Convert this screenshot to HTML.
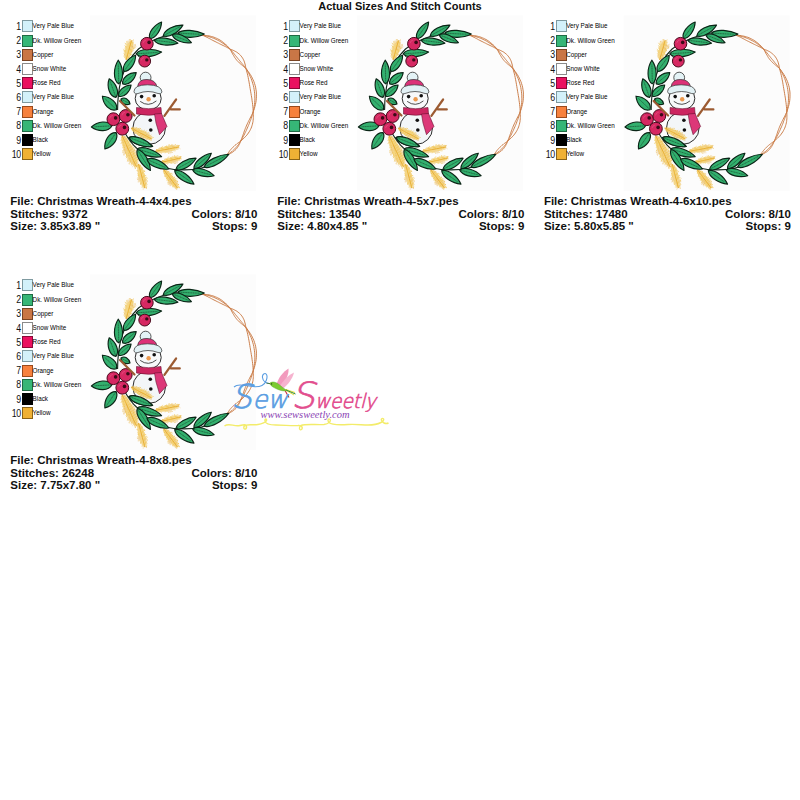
<!DOCTYPE html>
<html><head><meta charset="utf-8"><style>
html,body{margin:0;padding:0;background:#fff;width:800px;height:800px;overflow:hidden;position:relative}
svg.art{position:absolute;left:0;top:0}
.num{position:absolute;width:21px;text-align:right;font:10px "Liberation Sans",sans-serif;letter-spacing:-0.3px;color:#111;line-height:11px;transform:scaleX(0.88);transform-origin:100% 50%}
.sw{position:absolute;width:9px;height:10px;border:0.8px solid #777}
.lab{position:absolute;font:6.3px "Liberation Sans",sans-serif;color:#000;white-space:nowrap;line-height:7px}
.info{position:absolute;font:bold 11.5px "Liberation Sans",sans-serif;color:#111;line-height:12.3px;white-space:nowrap}
.row{display:flex;justify-content:space-between}
.title{position:absolute;left:0;top:0;width:800px;text-align:center;font:bold 11px "Liberation Sans",sans-serif;color:#111;line-height:12px}
</style></head><body>
<svg class="art" width="800" height="800" viewBox="0 0 800 800"><g transform="translate(0,0)"><rect x="90" y="15.5" width="166" height="175.5" fill="#fcfcfc"/><path d="M202.4,35.2 L203.8,35.3 L205.1,35.4 L206.4,35.5 L207.7,35.7 L209.0,35.9 L210.3,36.2 L211.6,36.5 L212.9,36.9 L214.2,37.3 L215.4,37.8 L216.6,38.3 L217.8,38.9 L219.0,39.5 L220.2,40.2 L221.3,40.9 L222.4,41.7 L223.4,42.5 L224.5,43.4 L225.5,44.2 L226.4,45.2 L227.4,46.1 L228.3,47.1 L229.2,48.1 L230.0,49.1 L230.6,50.0 L231.1,51.0 L231.6,52.0 L232.1,53.0 L232.6,53.9 L233.1,54.8 L233.7,55.7 L234.2,56.6 L234.7,57.5 L235.3,58.3 L235.9,59.1 L236.5,59.9 L237.2,60.7 L237.9,61.4 L238.6,62.1 L239.3,62.9 L240.1,63.6 L240.9,64.2 L241.7,64.9 L242.5,65.6 L243.3,66.3 L244.2,67.0 L245.0,67.7 L245.9,68.4 L247.1,69.9 L248.2,71.5 L249.3,73.0 L250.4,74.7 L251.4,76.3 L252.3,78.1 L253.1,79.8 L253.9,81.6 L254.5,83.4 L255.1,85.3 L255.6,87.2 L255.9,89.1 L256.2,91.0 L256.4,93.0 L256.4,94.9 L256.4,96.9 L256.3,98.8 L256.1,100.8 L255.8,102.7 L255.4,104.6 L254.9,106.5 L254.4,108.3 L253.8,110.1 L253.2,111.9 L252.6,113.2 L252.0,114.4 L251.4,115.6 L250.8,116.8 L250.2,118.0 L249.6,119.2 L249.0,120.3 L248.4,121.5 L247.9,122.6 L247.3,123.8 L246.8,125.0 L246.3,126.1 L245.8,127.3 L245.3,128.5 L244.9,129.7 L244.4,130.9 L244.0,132.1 L243.6,133.3 L243.1,134.6 L242.7,135.8 L242.2,137.1 L241.8,138.4 L241.3,139.6 L240.8,140.9 L240.5,141.7 L240.1,142.5 L239.8,143.3 L239.4,144.1 L239.0,144.9 L238.6,145.7 L238.1,146.5 L237.6,147.2 L237.1,147.9 L236.6,148.6 L236.0,149.3 L235.4,149.9 L234.7,150.5 L234.1,151.1 L233.4,151.6 L232.7,152.1 L231.9,152.6 L231.2,153.0 L230.4,153.5 L229.6,153.9 L228.8,154.2 L228.0,154.6 L227.1,154.9 L226.3,155.2" fill="none" stroke="#c97a44" stroke-width="0.95"/><path d="M202.4,35.2 L203.6,35.7 L204.8,36.3 L206.0,36.8 L207.2,37.4 L208.3,38.0 L209.5,38.6 L210.6,39.2 L211.7,39.8 L212.8,40.4 L214.0,41.0 L215.1,41.5 L216.2,42.1 L217.4,42.7 L218.5,43.2 L219.6,43.8 L220.8,44.4 L221.9,44.9 L223.1,45.5 L224.2,46.0 L225.4,46.6 L226.6,47.2 L227.7,47.8 L228.9,48.4 L230.0,49.1 L231.1,49.5 L232.1,49.9 L233.2,50.3 L234.2,50.8 L235.2,51.3 L236.2,51.8 L237.1,52.4 L238.0,53.1 L238.9,53.8 L239.7,54.5 L240.5,55.3 L241.2,56.1 L241.8,57.0 L242.5,57.9 L243.0,58.8 L243.5,59.8 L244.0,60.8 L244.4,61.9 L244.7,62.9 L245.0,64.0 L245.3,65.1 L245.5,66.2 L245.7,67.3 L245.9,68.4 L246.4,70.3 L246.9,72.1 L247.4,73.9 L247.8,75.7 L248.2,77.5 L248.5,79.3 L248.9,81.1 L249.2,82.9 L249.5,84.7 L249.8,86.5 L250.1,88.3 L250.4,90.0 L250.7,91.8 L251.0,93.6 L251.3,95.4 L251.6,97.1 L251.9,98.9 L252.1,100.8 L252.4,102.6 L252.6,104.4 L252.8,106.3 L253.0,108.2 L253.1,110.0 L253.2,111.9 L253.3,113.3 L253.3,114.7 L253.3,116.1 L253.3,117.4 L253.3,118.8 L253.1,120.2 L253.0,121.6 L252.7,122.9 L252.4,124.3 L252.0,125.6 L251.6,126.9 L251.1,128.2 L250.5,129.4 L249.9,130.6 L249.2,131.8 L248.4,133.0 L247.6,134.1 L246.8,135.2 L245.8,136.2 L244.9,137.2 L243.9,138.2 L242.9,139.1 L241.9,140.0 L240.8,140.9 L240.1,141.4 L239.4,142.0 L238.7,142.5 L238.0,143.0 L237.3,143.5 L236.6,144.0 L236.0,144.6 L235.3,145.1 L234.7,145.6 L234.1,146.2 L233.4,146.8 L232.8,147.3 L232.3,147.9 L231.7,148.5 L231.1,149.1 L230.6,149.8 L230.0,150.4 L229.5,151.1 L229.0,151.8 L228.5,152.5 L227.9,153.1 L227.4,153.8 L226.9,154.5 L226.3,155.2" fill="none" stroke="#c97a44" stroke-width="0.95"/><path d="M202.4,35.2 L203.7,35.4 L205.0,35.7 L206.3,36.0 L207.5,36.3 L208.8,36.6 L210.0,37.0 L211.3,37.4 L212.5,37.9 L213.7,38.3 L214.9,38.8 L216.1,39.4 L217.3,40.0 L218.5,40.6 L219.6,41.2 L220.8,41.9 L221.9,42.6 L223.0,43.3 L224.0,44.0 L225.1,44.8 L226.1,45.6 L227.1,46.5 L228.1,47.3 L229.1,48.2 L230.0,49.1 L230.7,49.9 L231.4,50.6 L232.1,51.4 L232.8,52.2 L233.5,53.0 L234.1,53.9 L234.8,54.7 L235.4,55.5 L236.1,56.3 L236.7,57.1 L237.4,57.9 L238.0,58.7 L238.7,59.5 L239.4,60.3 L240.0,61.1 L240.7,61.9 L241.3,62.7 L242.0,63.5 L242.7,64.3 L243.3,65.1 L244.0,65.9 L244.6,66.7 L245.2,67.6 L245.9,68.4 L246.9,70.0 L247.8,71.7 L248.7,73.3 L249.5,75.0 L250.3,76.7 L251.1,78.5 L251.7,80.2 L252.3,82.0 L252.9,83.9 L253.4,85.7 L253.8,87.5 L254.1,89.4 L254.4,91.3 L254.6,93.2 L254.8,95.1 L254.8,97.0 L254.9,98.9 L254.8,100.8 L254.7,102.6 L254.5,104.5 L254.2,106.4 L253.9,108.3 L253.6,110.1 L253.2,111.9 L252.8,113.2 L252.4,114.5 L252.0,115.8 L251.6,117.0 L251.2,118.3 L250.8,119.5 L250.3,120.7 L249.8,121.9 L249.4,123.2 L248.9,124.4 L248.4,125.6 L247.9,126.8 L247.3,128.0 L246.8,129.2 L246.3,130.4 L245.7,131.6 L245.2,132.7 L244.6,133.9 L244.0,135.1 L243.4,136.3 L242.8,137.4 L242.2,138.6 L241.5,139.7 L240.8,140.9 L240.4,141.6 L239.9,142.3 L239.4,143.1 L239.0,143.8 L238.5,144.5 L237.9,145.2 L237.4,145.8 L236.9,146.5 L236.3,147.2 L235.7,147.8 L235.2,148.4 L234.6,149.1 L233.9,149.7 L233.3,150.2 L232.6,150.8 L232.0,151.4 L231.3,151.9 L230.6,152.4 L229.9,152.9 L229.2,153.4 L228.5,153.9 L227.8,154.3 L227.1,154.8 L226.3,155.2" fill="none" stroke="#c97a44" stroke-width="0.95"/><ellipse cx="128.8" cy="50.2" rx="9.6" ry="3.6" transform="rotate(-74.2 128.8 50.2)" fill="#f7d77a" opacity="0.55"/><path d="M126.0,60.0L131.5,40.5" stroke="#e3a832" stroke-width="0.9"/><path d="M126.1,59.5L124.0,56.6M126.4,58.5L129.9,57.1M126.7,57.6L129.8,56.3M126.7,57.6L123.7,53.4M127.0,56.6L132.1,54.4M127.2,55.6L123.5,50.3M127.5,54.6L131.4,53.0M127.5,54.6L123.4,48.9M127.8,53.7L132.4,51.7M127.8,53.7L125.2,50.1M128.1,52.7L133.6,50.4M128.1,52.7L125.0,48.4M128.3,51.7L133.3,49.6M128.3,51.7L125.1,47.2M128.6,50.7L135.5,47.8M128.6,50.7L124.6,45.2M128.9,49.8L126.0,45.8M129.2,48.8L124.8,42.7M129.4,47.8L126.5,43.6M129.7,46.8L126.6,42.5M130.0,45.9L133.4,44.4M130.0,45.9L126.6,41.2M130.3,44.9L133.6,43.5M130.5,43.9L133.8,42.5M130.8,42.9L133.9,41.7M130.8,42.9L128.9,40.3M131.1,42.0L129.0,39.0M131.4,41.0L133.8,39.9" stroke="#efbf45" stroke-width="0.8" stroke-dasharray="1.1 0.45" fill="none"/><path d="M126.1,59.5L128.5,58.5M126.4,58.5L124.0,55.2M127.0,56.6L124.2,52.8M127.2,55.6L131.4,53.9M128.9,49.8L136.2,46.7M129.2,48.8L135.4,46.1M129.4,47.8L135.7,45.2M129.7,46.8L135.7,44.3M130.3,44.9L127.4,40.9M130.5,43.9L128.3,40.8M131.1,42.0L133.0,41.1M131.4,41.0L129.7,38.7" stroke="#e2a52e" stroke-width="0.6" stroke-dasharray="0.9 0.6" fill="none"/><ellipse cx="129.2" cy="151.2" rx="16.5" ry="4.3" transform="rotate(65.3 129.2 151.2)" fill="#f7d77a" opacity="0.55"/><path d="M122.0,135.5L136.5,167.0" stroke="#e3a832" stroke-width="0.9"/><path d="M122.2,136.0L126.2,137.0M122.6,136.9L120.9,140.5M123.1,137.8L121.5,140.9M123.1,137.8L128.1,139.1M123.5,138.7L121.0,143.7M123.9,139.7L130.1,141.2M124.3,140.6L122.5,144.3M124.3,140.6L131.1,142.3M124.8,141.5L122.5,146.0M124.8,141.5L129.0,142.6M125.2,142.4L122.5,147.8M125.2,142.4L130.3,143.7M125.6,143.4L123.2,148.3M125.6,143.4L131.2,144.8M126.1,144.3L122.5,151.5M126.1,144.3L133.1,146.1M126.5,145.2L131.8,146.6M126.9,146.2L135.5,148.3M127.3,147.1L133.6,148.6M127.8,148.0L135.0,149.8M128.2,148.9L125.7,153.9M128.2,148.9L136.6,151.0M128.6,149.9L125.9,155.3M129.0,150.8L125.9,157.0M129.5,151.7L126.1,158.4M129.5,151.7L136.6,153.5M129.9,152.6L138.9,154.9M130.3,153.6L127.3,159.6M130.7,154.5L127.2,161.7M130.7,154.5L138.9,156.5M131.2,155.4L138.0,157.1M131.6,156.3L129.1,161.4M131.6,156.3L139.5,158.3M132.4,158.2L129.4,164.3M132.4,158.2L138.3,159.7M132.9,159.1L138.4,160.5M133.3,160.1L131.0,164.7M133.3,160.1L137.9,161.2M133.7,161.0L138.6,162.2M134.2,161.9L132.7,164.8M134.2,161.9L137.6,162.8M135.0,163.8L138.8,164.7M135.4,164.7L134.3,166.9M135.4,164.7L139.2,165.6M135.9,165.6L138.8,166.4M136.3,166.5L135.1,169.0M136.3,166.5L139.0,167.2" stroke="#efbf45" stroke-width="0.8" stroke-dasharray="1.1 0.45" fill="none"/><path d="M122.2,136.0L120.9,138.5M122.6,136.9L126.8,137.9M123.5,138.7L128.0,139.9M123.9,139.7L121.9,143.6M126.5,145.2L122.5,153.2M126.9,146.2L123.3,153.3M127.3,147.1L123.5,154.8M127.8,148.0L123.7,156.0M128.6,149.9L136.7,151.9M129.0,150.8L136.3,152.6M129.9,152.6L127.4,157.5M130.3,153.6L137.3,155.3M131.2,155.4L128.1,161.5M132.0,157.3L128.8,163.7M132.0,157.3L139.3,159.1M132.9,159.1L131.0,162.8M133.7,161.0L131.5,165.3M134.6,162.8L132.5,167.1M134.6,162.8L139.1,163.9M135.0,163.8L133.6,166.5M135.9,165.6L134.7,168.0" stroke="#e2a52e" stroke-width="0.6" stroke-dasharray="0.9 0.6" fill="none"/><ellipse cx="141.7" cy="176.0" rx="11.8" ry="3.1" transform="rotate(75.3 141.7 176.0)" fill="#f7d77a" opacity="0.55"/><path d="M138.5,164.0L144.8,188.0" stroke="#e3a832" stroke-width="0.9"/><path d="M138.6,164.5L141.4,165.7M138.9,165.5L137.0,168.0M139.2,166.5L137.5,168.7M139.2,166.5L143.0,168.2M139.4,167.5L136.7,171.1M139.7,168.5L144.5,170.6M139.9,169.5L137.9,172.2M139.9,169.5L145.2,171.8M140.2,170.5L137.7,173.8M140.2,170.5L143.5,172.0M140.5,171.5L137.5,175.5M140.5,171.5L144.5,173.3M140.7,172.5L138.1,176.1M140.7,172.5L145.0,174.4M141.0,173.5L137.2,178.7M141.0,173.5L146.3,175.9M141.3,174.5L145.2,176.3M141.5,175.5L147.7,178.3M141.8,176.5L146.2,178.5M142.0,177.5L146.9,179.6M142.3,178.5L140.1,181.5M142.3,178.5L147.7,180.9M142.6,179.5L140.2,182.7M142.8,180.5L140.3,183.9M143.1,181.5L140.5,184.9M143.1,181.5L146.9,183.2M143.4,182.5L147.8,184.5M143.6,183.5L141.7,186.1M143.9,184.5L141.8,187.3M143.9,184.5L147.2,186.0M144.1,185.5L146.6,186.6M144.4,186.5L143.1,188.2M144.4,186.5L147.2,187.8" stroke="#efbf45" stroke-width="0.8" stroke-dasharray="1.1 0.45" fill="none"/><path d="M138.6,164.5L137.4,166.2M138.9,165.5L142.0,166.9M139.4,167.5L142.9,169.0M139.7,168.5L137.5,171.4M141.3,174.5L137.1,180.1M141.5,175.5L137.9,180.4M141.8,176.5L138.0,181.6M142.0,177.5L138.2,182.6M142.6,179.5L147.5,181.7M142.8,180.5L147.0,182.4M143.4,182.5L141.6,184.8M143.6,183.5L146.8,184.9M144.1,185.5L142.6,187.6M144.7,187.5L143.0,189.8M144.7,187.5L147.4,188.7" stroke="#e2a52e" stroke-width="0.6" stroke-dasharray="0.9 0.6" fill="none"/><ellipse cx="167.0" cy="149.2" rx="11.6" ry="2.8" transform="rotate(-10.6 167.0 149.2)" fill="#f7d77a" opacity="0.55"/><path d="M155.0,151.5L179.0,147.0" stroke="#e3a832" stroke-width="0.9"/><path d="M155.5,151.4L156.8,149.0M156.5,151.2L158.6,153.0M157.5,151.0L159.4,152.6M157.5,151.0L159.3,147.7M158.5,150.8L161.5,153.5M159.5,150.7L161.7,146.5M160.5,150.5L162.8,152.4M160.5,150.5L162.9,145.9M161.5,150.3L164.3,152.7M161.5,150.3L163.0,147.4M162.5,150.1L165.9,153.0M162.5,150.1L164.3,146.7M163.5,149.9L166.5,152.5M163.5,149.9L165.5,146.2M164.5,149.7L168.9,153.5M164.5,149.7L167.0,145.1M165.5,149.5L167.3,146.1M166.5,149.3L169.4,144.0M167.5,149.2L169.5,145.4M168.5,149.0L170.7,144.8M169.5,148.8L172.1,151.0M169.5,148.8L172.0,144.1M170.5,148.6L173.2,150.9M171.5,148.4L174.4,150.9M172.5,148.2L175.4,150.7M172.5,148.2L174.3,144.9M173.5,148.0L175.6,144.2M174.5,147.8L176.7,149.7M175.5,147.7L177.9,149.7M175.5,147.7L177.0,144.8M176.5,147.5L177.6,145.3M177.5,147.3L179.0,148.5M177.5,147.3L178.8,144.8" stroke="#efbf45" stroke-width="0.8" stroke-dasharray="1.1 0.45" fill="none"/><path d="M155.5,151.4L156.9,152.7M156.5,151.2L157.9,148.6M158.5,150.8L160.1,147.8M159.5,150.7L162.0,152.8M165.5,149.5L170.2,153.6M166.5,149.3L170.7,152.9M167.5,149.2L171.8,152.9M168.5,149.0L172.8,152.7M170.5,148.6L172.8,144.3M171.5,148.4L173.4,144.8M173.5,148.0L175.4,149.7M174.5,147.8L176.0,145.1M176.5,147.5L178.3,149.0M178.5,147.1L180.4,148.8M178.5,147.1L179.8,144.7" stroke="#e2a52e" stroke-width="0.6" stroke-dasharray="0.9 0.6" fill="none"/><ellipse cx="171.0" cy="160.2" rx="9.7" ry="2.6" transform="rotate(-12.7 171.0 160.2)" fill="#f7d77a" opacity="0.55"/><path d="M161.0,162.5L181.0,158.0" stroke="#e3a832" stroke-width="0.9"/><path d="M161.5,162.4L162.7,160.0M162.5,162.2L164.6,163.9M163.5,161.9L165.4,163.5M163.5,161.9L165.1,158.6M164.5,161.7L167.6,164.2M165.5,161.5L167.6,157.3M166.5,161.3L168.9,163.2M166.5,161.3L168.8,156.6M167.5,161.0L170.4,163.3M167.5,161.0L168.9,158.1M168.5,160.8L171.9,163.5M168.5,160.8L170.2,157.4M169.5,160.6L172.5,163.0M169.5,160.6L171.3,156.9M170.5,160.4L174.8,163.8M170.5,160.4L172.7,155.9M171.5,160.1L173.1,156.9M172.5,159.9L174.9,155.0M173.5,159.7L175.1,156.3M174.5,159.5L176.2,155.9M175.5,159.2L177.6,160.9M175.5,159.2L177.3,155.5M176.5,159.0L178.5,160.7M177.5,158.8L179.5,160.4M178.5,158.6L180.4,160.1M178.5,158.6L179.5,156.4M179.5,158.3L180.7,156.0M180.5,158.1L182.0,159.3" stroke="#efbf45" stroke-width="0.8" stroke-dasharray="1.1 0.45" fill="none"/><path d="M161.5,162.4L162.9,163.5M162.5,162.2L163.8,159.5M164.5,161.7L166.0,158.6M165.5,161.5L168.1,163.5M171.5,160.1L176.0,163.7M172.5,159.9L176.4,163.0M173.5,159.7L177.4,162.8M174.5,159.5L178.2,162.4M176.5,159.0L178.1,155.8M177.5,158.8L178.7,156.3M179.5,158.3L180.7,159.3M180.5,158.1L181.4,156.2" stroke="#e2a52e" stroke-width="0.6" stroke-dasharray="0.9 0.6" fill="none"/><ellipse cx="170.5" cy="178.8" rx="11.0" ry="3.1" transform="rotate(52.9 170.5 178.8)" fill="#f7d77a" opacity="0.55"/><path d="M163.5,169.5L177.5,188.0" stroke="#e3a832" stroke-width="0.9"/><path d="M163.8,169.9L166.9,170.0M164.4,170.7L163.6,173.7M165.0,171.5L164.3,174.2M165.0,171.5L169.3,171.6M165.6,172.3L164.5,176.7M166.2,173.1L171.6,173.3M166.8,173.9L166.0,177.3M166.8,173.9L172.7,174.1M167.5,174.7L166.4,178.8M167.5,174.7L171.1,174.8M168.1,175.5L166.8,180.4M168.1,175.5L172.5,175.7M168.7,176.3L167.6,180.7M168.7,176.3L173.4,176.5M169.3,177.1L167.7,183.4M169.3,177.1L175.2,177.3M169.9,177.9L174.2,178.1M170.5,178.8L177.3,178.9M171.1,179.6L175.9,179.7M171.7,180.4L176.9,180.5M172.3,181.2L171.4,184.7M172.3,181.2L178.1,181.3M172.9,182.0L172.0,185.7M173.5,182.8L172.6,186.7M174.2,183.6L173.2,187.4M174.2,183.6L178.1,183.7M174.8,184.4L179.2,184.5M175.4,185.2L174.7,188.0M176.0,186.0L175.2,188.9M176.0,186.0L179.2,186.1M176.6,186.8L179.2,186.9M177.2,187.6L176.7,189.7M177.2,187.6L180.3,187.7" stroke="#efbf45" stroke-width="0.8" stroke-dasharray="1.1 0.45" fill="none"/><path d="M163.8,169.9L163.3,172.0M164.4,170.7L167.8,170.8M165.6,172.3L169.5,172.4M166.2,173.1L165.3,176.7M169.9,177.9L168.2,184.7M170.5,178.8L169.0,184.7M171.1,179.6L169.6,185.7M171.7,180.4L170.2,186.4M172.9,182.0L178.1,182.1M173.5,182.8L177.9,182.9M174.8,184.4L174.1,186.9M175.4,185.2L178.5,185.3M176.6,186.8L176.0,189.2" stroke="#e2a52e" stroke-width="0.6" stroke-dasharray="0.9 0.6" fill="none"/><path d="M204,34.5 C190,33 175,32.5 163,36.5 C152,40 145,44 138.5,49 C130,57 124,70 121,80 C118.5,90 117.6,100 117.6,110" fill="none" stroke="#13281b" stroke-width="1.1"/><path d="M125,133 C129,140 133,145 136.5,148 C141,153 147,160 152,162.5 C160,166 168,169 174,169.5 C182,170 193,170 200,168.5 C210,166 220,160 228,154.5" fill="none" stroke="#13281b" stroke-width="1.1"/><path d="M141,47 L146.5,44 M138,56 L144,60.5" stroke="#1d3b28" stroke-width="0.8"/><path d="M177.9,33.0C182.4,38.6 195.6,38.6 204.3,34.1C196.0,29.9 182.8,28.8 177.9,33.0Z" fill="#33b06e" stroke="#0a2516" stroke-width="1.15" stroke-linejoin="round"/><path d="M179.2,33.2Q191.1,33.9 200.3,34.2" fill="none" stroke="#123d25" stroke-width="0.65" stroke-dasharray="1.2 0.5"/><path d="M163.2,35.8C169.1,38.2 178.7,32.4 182.9,25.1C174.5,24.7 164.4,29.6 163.2,35.8Z" fill="#33b06e" stroke="#0a2516" stroke-width="1.15" stroke-linejoin="round"/><path d="M164.2,35.3Q173.1,30.4 179.9,26.7" fill="none" stroke="#123d25" stroke-width="0.65" stroke-dasharray="1.2 0.5"/><path d="M172.2,34.7C174.0,40.3 183.7,43.8 191.4,42.6C186.8,36.4 177.4,32.0 172.2,34.7Z" fill="#33b06e" stroke="#0a2516" stroke-width="1.15" stroke-linejoin="round"/><path d="M173.2,35.1Q181.8,38.7 188.5,41.4" fill="none" stroke="#123d25" stroke-width="0.65" stroke-dasharray="1.2 0.5"/><path d="M149.7,38.6C155.8,38.5 161.3,29.9 161.6,22.0C154.2,24.8 147.9,32.8 149.7,38.6Z" fill="#33b06e" stroke="#0a2516" stroke-width="1.15" stroke-linejoin="round"/><path d="M150.3,37.8Q155.6,30.3 159.8,24.5" fill="none" stroke="#123d25" stroke-width="0.65" stroke-dasharray="1.2 0.5"/><path d="M154.2,40.3C157.9,45.6 169.8,46.5 177.9,43.1C170.8,37.9 159.0,36.0 154.2,40.3Z" fill="#33b06e" stroke="#0a2516" stroke-width="1.15" stroke-linejoin="round"/><path d="M155.4,40.4Q166.1,41.7 174.3,42.7" fill="none" stroke="#123d25" stroke-width="0.65" stroke-dasharray="1.2 0.5"/><path d="M136.2,53.8C141.1,58.8 153.8,57.4 161.6,52.1C153.2,47.9 140.4,48.2 136.2,53.8Z" fill="#33b06e" stroke="#0a2516" stroke-width="1.15" stroke-linejoin="round"/><path d="M137.5,53.7Q148.9,53.0 157.8,52.4" fill="none" stroke="#123d25" stroke-width="0.65" stroke-dasharray="1.2 0.5"/><path d="M123.8,71.5C130.2,71.7 135.7,63.2 135.6,55.2C128.0,57.6 121.6,65.5 123.8,71.5Z" fill="#33b06e" stroke="#0a2516" stroke-width="1.15" stroke-linejoin="round"/><path d="M124.4,70.7Q129.7,63.4 133.8,57.6" fill="none" stroke="#123d25" stroke-width="0.65" stroke-dasharray="1.2 0.5"/><path d="M118.7,83.9C124.3,79.5 123.5,67.7 118.2,60.2C113.3,67.9 112.9,79.8 118.7,83.9Z" fill="#33b06e" stroke="#0a2516" stroke-width="1.15" stroke-linejoin="round"/><path d="M118.7,82.7Q118.5,72.1 118.3,63.8" fill="none" stroke="#123d25" stroke-width="0.65" stroke-dasharray="1.2 0.5"/><path d="M122.7,83.9C128.5,85.9 134.9,79.8 136.2,72.6C128.8,72.6 121.7,77.8 122.7,83.9Z" fill="#33b06e" stroke="#0a2516" stroke-width="1.15" stroke-linejoin="round"/><path d="M123.4,83.3Q129.4,78.2 134.2,74.3" fill="none" stroke="#123d25" stroke-width="0.65" stroke-dasharray="1.2 0.5"/><path d="M115.9,97.4C120.0,92.1 116.1,83.0 109.2,78.8C106.5,86.5 109.3,96.0 115.9,97.4Z" fill="#33b06e" stroke="#0a2516" stroke-width="1.15" stroke-linejoin="round"/><path d="M115.6,96.5Q112.6,88.1 110.2,81.6" fill="none" stroke="#123d25" stroke-width="0.65" stroke-dasharray="1.2 0.5"/><path d="M118.7,96.2C124.2,97.8 130.1,91.8 131.1,85.0C124.2,85.3 117.7,90.6 118.7,96.2Z" fill="#33b06e" stroke="#0a2516" stroke-width="1.15" stroke-linejoin="round"/><path d="M119.3,95.6Q124.9,90.6 129.2,86.7" fill="none" stroke="#123d25" stroke-width="0.65" stroke-dasharray="1.2 0.5"/><path d="M116.5,109.7C118.2,102.9 110.7,96.6 102.4,96.2C103.1,104.5 109.8,111.7 116.5,109.7Z" fill="#33b06e" stroke="#0a2516" stroke-width="1.15" stroke-linejoin="round"/><path d="M115.8,109.0Q109.5,103.0 104.5,98.2" fill="none" stroke="#123d25" stroke-width="0.65" stroke-dasharray="1.2 0.5"/><path d="M121.0,99.0C120.6,103.4 125.4,105.6 130.0,104.0C128.9,99.2 124.6,96.4 121.0,99.0Z" fill="#33b06e" stroke="#0a2516" stroke-width="1.15" stroke-linejoin="round"/><path d="M121.5,99.2Q125.5,101.5 128.7,103.2" fill="none" stroke="#123d25" stroke-width="0.65" stroke-dasharray="1.2 0.5"/><path d="M112.0,125.8C107.9,119.9 97.7,121.2 91.4,127.0C98.3,132.1 108.6,132.1 112.0,125.8Z" fill="#33b06e" stroke="#0a2516" stroke-width="1.15" stroke-linejoin="round"/><path d="M111.0,125.9Q101.7,126.4 94.5,126.8" fill="none" stroke="#123d25" stroke-width="0.65" stroke-dasharray="1.2 0.5"/><path d="M116.1,132.6C109.1,132.1 104.0,140.6 104.9,148.9C113.0,146.8 119.1,139.0 116.1,132.6Z" fill="#33b06e" stroke="#0a2516" stroke-width="1.15" stroke-linejoin="round"/><path d="M115.5,133.4Q110.5,140.8 106.6,146.5" fill="none" stroke="#123d25" stroke-width="0.65" stroke-dasharray="1.2 0.5"/><path d="M129.0,137.5C131.5,143.7 143.5,147.7 152.6,146.5C146.6,139.5 135.0,134.6 129.0,137.5Z" fill="#33b06e" stroke="#0a2516" stroke-width="1.15" stroke-linejoin="round"/><path d="M130.2,137.9Q140.8,142.0 149.1,145.2" fill="none" stroke="#123d25" stroke-width="0.65" stroke-dasharray="1.2 0.5"/><path d="M137.3,148.8C140.2,154.8 152.5,158.3 161.6,156.6C155.2,149.9 143.2,145.6 137.3,148.8Z" fill="#33b06e" stroke="#0a2516" stroke-width="1.15" stroke-linejoin="round"/><path d="M138.5,149.2Q149.4,152.7 158.0,155.4" fill="none" stroke="#123d25" stroke-width="0.65" stroke-dasharray="1.2 0.5"/><path d="M137.3,149.5C135.2,156.1 142.2,166.3 150.4,170.5C150.2,161.3 144.1,150.5 137.3,149.5Z" fill="#33b06e" stroke="#0a2516" stroke-width="1.15" stroke-linejoin="round"/><path d="M138.0,150.6Q143.9,160.0 148.4,167.3" fill="none" stroke="#123d25" stroke-width="0.65" stroke-dasharray="1.2 0.5"/><path d="M147.0,159.3C148.8,165.9 159.9,170.2 168.8,169.0C163.7,161.6 153.1,156.2 147.0,159.3Z" fill="#33b06e" stroke="#0a2516" stroke-width="1.15" stroke-linejoin="round"/><path d="M148.1,159.8Q157.9,164.2 165.5,167.5" fill="none" stroke="#123d25" stroke-width="0.65" stroke-dasharray="1.2 0.5"/><path d="M175.9,169.5C181.9,171.7 191.8,165.6 196.1,158.2C187.5,158.0 177.2,163.2 175.9,169.5Z" fill="#33b06e" stroke="#0a2516" stroke-width="1.15" stroke-linejoin="round"/><path d="M176.9,168.9Q186.0,163.8 193.1,159.9" fill="none" stroke="#123d25" stroke-width="0.65" stroke-dasharray="1.2 0.5"/><path d="M193.9,168.4C200.2,169.3 208.6,161.4 211.3,153.2C202.9,154.8 193.8,162.0 193.9,168.4Z" fill="#33b06e" stroke="#0a2516" stroke-width="1.15" stroke-linejoin="round"/><path d="M194.8,167.6Q202.6,160.8 208.7,155.5" fill="none" stroke="#123d25" stroke-width="0.65" stroke-dasharray="1.2 0.5"/><path d="M204.0,167.2C210.7,169.2 222.8,162.3 228.7,154.3C218.8,154.6 206.2,160.6 204.0,167.2Z" fill="#33b06e" stroke="#0a2516" stroke-width="1.15" stroke-linejoin="round"/><path d="M205.2,166.6Q216.3,160.8 225.0,156.2" fill="none" stroke="#123d25" stroke-width="0.65" stroke-dasharray="1.2 0.5"/><path d="M192.7,170.0C195.3,175.7 206.1,178.1 214.1,175.7C208.4,169.7 197.8,166.3 192.7,170.0Z" fill="#33b06e" stroke="#0a2516" stroke-width="1.15" stroke-linejoin="round"/><path d="M193.8,170.3Q203.4,172.8 210.9,174.8" fill="none" stroke="#123d25" stroke-width="0.65" stroke-dasharray="1.2 0.5"/><path d="M174.7,170.6C175.4,177.0 185.2,183.4 193.9,184.1C190.3,176.2 181.0,169.0 174.7,170.6Z" fill="#33b06e" stroke="#0a2516" stroke-width="1.15" stroke-linejoin="round"/><path d="M175.7,171.3Q184.3,177.3 191.0,182.1" fill="none" stroke="#123d25" stroke-width="0.65" stroke-dasharray="1.2 0.5"/><circle cx="146.9" cy="43.7" r="6.3" fill="#d62862" stroke="#4a0a1c" stroke-width="1"/><circle cx="149.1" cy="42.4" r="1.8" fill="#3a0a16"/><path d="M143.1,43.1a3.8,3.8 0 0 1 3.1,-3.1" stroke="#f07aa0" stroke-width="0.6" fill="none" opacity="0.6"/><circle cx="144.7" cy="61.1" r="5.9" fill="#d62862" stroke="#4a0a1c" stroke-width="1"/><circle cx="146.8" cy="59.9" r="1.7" fill="#3a0a16"/><path d="M141.2,60.5a3.5,3.5 0 0 1 3.0,-3.0" stroke="#f07aa0" stroke-width="0.6" fill="none" opacity="0.6"/><circle cx="113.4" cy="119.2" r="6.4" fill="#d62862" stroke="#4a0a1c" stroke-width="1"/><circle cx="115.6" cy="117.9" r="1.8" fill="#3a0a16"/><path d="M109.6,118.6a3.8,3.8 0 0 1 3.2,-3.2" stroke="#f07aa0" stroke-width="0.6" fill="none" opacity="0.6"/><circle cx="122.3" cy="128.7" r="6.4" fill="#d62862" stroke="#4a0a1c" stroke-width="1"/><circle cx="124.5" cy="127.4" r="1.8" fill="#3a0a16"/><path d="M118.5,128.1a3.8,3.8 0 0 1 3.2,-3.2" stroke="#f07aa0" stroke-width="0.6" fill="none" opacity="0.6"/><circle cx="125.7" cy="116" r="6.4" fill="#d62862" stroke="#4a0a1c" stroke-width="1"/><circle cx="127.9" cy="114.7" r="1.8" fill="#3a0a16"/><path d="M121.9,115.4a3.8,3.8 0 0 1 3.2,-3.2" stroke="#f07aa0" stroke-width="0.6" fill="none" opacity="0.6"/><path d="M120,101 L134.5,115.5" stroke="#9c5b32" stroke-width="2.2" stroke-linecap="round"/><path d="M164.4,115.9 L176.1,99.5 M170.9,109.4 L179.8,109.4" stroke="#9c5b32" stroke-width="2.2" stroke-linecap="round"/><circle cx="149.2" cy="128" r="16.3" fill="#f3f6f8" stroke="#222" stroke-width="0.95"/><ellipse cx="148.2" cy="98.5" rx="13" ry="11.5" fill="#f7f9fa" stroke="#222" stroke-width="0.95"/><path d="M136.5,107.5 Q148.5,110 161,107.5 L161.5,114 Q148.5,116.5 136.5,114 Z" fill="#cc2560" stroke="#6a1030" stroke-width="0.6"/><path d="M154.5,114 L161.5,113.5 L167,126.5 L159.5,134.7 L156,123 Z" fill="#dc3878" stroke="#6a1030" stroke-width="0.6"/><circle cx="145.6" cy="77.6" r="5.4" fill="#e4f3f6" stroke="#2c2c2c" stroke-width="0.8"/><path d="M137.5,87 Q138.5,79 147,79.5 Q155.5,79.5 157,87 Z" fill="#dc3278" stroke="#2c2c2c" stroke-width="0.7"/><path d="M134,91.5 Q134,85 147.5,84.8 Q161.5,85 162,92 Q161,94.8 158,93.5 Q148,89.5 138,93.5 Q134.5,94.8 134,91.5 Z" fill="#e2f1f5" stroke="#2c2c2c" stroke-width="0.7"/><circle cx="141.6" cy="96.6" r="1.8" fill="#111"/><circle cx="154.2" cy="95.8" r="1.8" fill="#111"/><circle cx="148.6" cy="99.3" r="2.2" fill="#eb9a50"/><path d="M140.2,101.4 Q148.4,107.5 156.4,100.9" fill="none" stroke="#222" stroke-width="0.8"/><circle cx="150.3" cy="120.2" r="1.8" fill="#111"/><circle cx="150.8" cy="130" r="1.8" fill="#111"/><ellipse cx="141.2" cy="133.4" rx="11.0" ry="3.0" transform="rotate(27.8 141.2 133.4)" fill="#f7d77a" opacity="0.55"/><path d="M131.0,128.0L151.5,138.8" stroke="#e3a832" stroke-width="0.9"/><path d="M131.4,128.2L134.1,127.1M132.3,128.7L132.9,131.6M133.2,129.2L133.7,131.7M133.2,129.2L136.9,127.6M134.1,129.6L134.9,133.9M135.0,130.1L139.6,128.1M135.9,130.6L136.5,133.8M135.9,130.6L141.0,128.4M136.8,131.1L137.5,134.9M136.8,131.1L140.0,129.7M137.7,131.5L138.6,136.2M137.7,131.5L141.5,129.9M138.6,132.0L139.4,136.2M138.6,132.0L142.7,130.2M139.5,132.5L140.6,138.5M139.5,132.5L144.6,130.2M140.4,132.9L144.1,131.3M141.2,133.4L147.1,130.8M142.1,133.9L146.3,132.1M143.0,134.3L147.5,132.4M143.9,134.8L144.6,138.2M143.9,134.8L148.9,132.6M144.8,135.3L145.5,138.8M145.7,135.7L146.4,139.5M146.6,136.2L147.3,139.9M146.6,136.2L150.0,134.7M147.5,136.7L151.4,135.0M148.4,137.2L148.9,139.9M149.3,137.6L149.8,140.5M149.3,137.6L152.0,136.4M150.2,138.1L152.4,137.1M151.1,138.6L151.4,140.6M151.1,138.6L153.7,137.4" stroke="#efbf45" stroke-width="0.8" stroke-dasharray="1.1 0.45" fill="none"/><path d="M131.4,128.2L131.8,130.2M132.3,128.7L135.3,127.4M134.1,129.6L137.5,128.2M135.0,130.1L135.7,133.5M140.4,132.9L141.6,139.4M141.2,133.4L142.3,139.1M142.1,133.9L143.3,139.7M143.0,134.3L144.2,140.2M144.8,135.3L149.3,133.3M145.7,135.7L149.5,134.1M147.5,136.7L148.0,139.1M148.4,137.2L151.1,136.0M150.2,138.1L150.6,140.4" stroke="#e2a52e" stroke-width="0.6" stroke-dasharray="0.9 0.6" fill="none"/><path d="M129.0,137.5C131.5,143.7 143.5,147.7 152.6,146.5C146.6,139.6 135.0,134.6 129.0,137.5Z" fill="#33b06e" stroke="#0a2516" stroke-width="1.15" stroke-linejoin="round"/><path d="M130.2,137.9Q140.8,142.0 149.1,145.2" fill="none" stroke="#123d25" stroke-width="0.65" stroke-dasharray="1.2 0.5"/></g><g transform="translate(267,0)"><rect x="90" y="15.5" width="166" height="175.5" fill="#fcfcfc"/><path d="M202.4,35.2 L203.8,35.3 L205.1,35.4 L206.4,35.5 L207.7,35.7 L209.0,35.9 L210.3,36.2 L211.6,36.5 L212.9,36.9 L214.2,37.3 L215.4,37.8 L216.6,38.3 L217.8,38.9 L219.0,39.5 L220.2,40.2 L221.3,40.9 L222.4,41.7 L223.4,42.5 L224.5,43.4 L225.5,44.2 L226.4,45.2 L227.4,46.1 L228.3,47.1 L229.2,48.1 L230.0,49.1 L230.6,50.0 L231.1,51.0 L231.6,52.0 L232.1,53.0 L232.6,53.9 L233.1,54.8 L233.7,55.7 L234.2,56.6 L234.7,57.5 L235.3,58.3 L235.9,59.1 L236.5,59.9 L237.2,60.7 L237.9,61.4 L238.6,62.1 L239.3,62.9 L240.1,63.6 L240.9,64.2 L241.7,64.9 L242.5,65.6 L243.3,66.3 L244.2,67.0 L245.0,67.7 L245.9,68.4 L247.1,69.9 L248.2,71.5 L249.3,73.0 L250.4,74.7 L251.4,76.3 L252.3,78.1 L253.1,79.8 L253.9,81.6 L254.5,83.4 L255.1,85.3 L255.6,87.2 L255.9,89.1 L256.2,91.0 L256.4,93.0 L256.4,94.9 L256.4,96.9 L256.3,98.8 L256.1,100.8 L255.8,102.7 L255.4,104.6 L254.9,106.5 L254.4,108.3 L253.8,110.1 L253.2,111.9 L252.6,113.2 L252.0,114.4 L251.4,115.6 L250.8,116.8 L250.2,118.0 L249.6,119.2 L249.0,120.3 L248.4,121.5 L247.9,122.6 L247.3,123.8 L246.8,125.0 L246.3,126.1 L245.8,127.3 L245.3,128.5 L244.9,129.7 L244.4,130.9 L244.0,132.1 L243.6,133.3 L243.1,134.6 L242.7,135.8 L242.2,137.1 L241.8,138.4 L241.3,139.6 L240.8,140.9 L240.5,141.7 L240.1,142.5 L239.8,143.3 L239.4,144.1 L239.0,144.9 L238.6,145.7 L238.1,146.5 L237.6,147.2 L237.1,147.9 L236.6,148.6 L236.0,149.3 L235.4,149.9 L234.7,150.5 L234.1,151.1 L233.4,151.6 L232.7,152.1 L231.9,152.6 L231.2,153.0 L230.4,153.5 L229.6,153.9 L228.8,154.2 L228.0,154.6 L227.1,154.9 L226.3,155.2" fill="none" stroke="#c97a44" stroke-width="0.95"/><path d="M202.4,35.2 L203.6,35.7 L204.8,36.3 L206.0,36.8 L207.2,37.4 L208.3,38.0 L209.5,38.6 L210.6,39.2 L211.7,39.8 L212.8,40.4 L214.0,41.0 L215.1,41.5 L216.2,42.1 L217.4,42.7 L218.5,43.2 L219.6,43.8 L220.8,44.4 L221.9,44.9 L223.1,45.5 L224.2,46.0 L225.4,46.6 L226.6,47.2 L227.7,47.8 L228.9,48.4 L230.0,49.1 L231.1,49.5 L232.1,49.9 L233.2,50.3 L234.2,50.8 L235.2,51.3 L236.2,51.8 L237.1,52.4 L238.0,53.1 L238.9,53.8 L239.7,54.5 L240.5,55.3 L241.2,56.1 L241.8,57.0 L242.5,57.9 L243.0,58.8 L243.5,59.8 L244.0,60.8 L244.4,61.9 L244.7,62.9 L245.0,64.0 L245.3,65.1 L245.5,66.2 L245.7,67.3 L245.9,68.4 L246.4,70.3 L246.9,72.1 L247.4,73.9 L247.8,75.7 L248.2,77.5 L248.5,79.3 L248.9,81.1 L249.2,82.9 L249.5,84.7 L249.8,86.5 L250.1,88.3 L250.4,90.0 L250.7,91.8 L251.0,93.6 L251.3,95.4 L251.6,97.1 L251.9,98.9 L252.1,100.8 L252.4,102.6 L252.6,104.4 L252.8,106.3 L253.0,108.2 L253.1,110.0 L253.2,111.9 L253.3,113.3 L253.3,114.7 L253.3,116.1 L253.3,117.4 L253.3,118.8 L253.1,120.2 L253.0,121.6 L252.7,122.9 L252.4,124.3 L252.0,125.6 L251.6,126.9 L251.1,128.2 L250.5,129.4 L249.9,130.6 L249.2,131.8 L248.4,133.0 L247.6,134.1 L246.8,135.2 L245.8,136.2 L244.9,137.2 L243.9,138.2 L242.9,139.1 L241.9,140.0 L240.8,140.9 L240.1,141.4 L239.4,142.0 L238.7,142.5 L238.0,143.0 L237.3,143.5 L236.6,144.0 L236.0,144.6 L235.3,145.1 L234.7,145.6 L234.1,146.2 L233.4,146.8 L232.8,147.3 L232.3,147.9 L231.7,148.5 L231.1,149.1 L230.6,149.8 L230.0,150.4 L229.5,151.1 L229.0,151.8 L228.5,152.5 L227.9,153.1 L227.4,153.8 L226.9,154.5 L226.3,155.2" fill="none" stroke="#c97a44" stroke-width="0.95"/><path d="M202.4,35.2 L203.7,35.4 L205.0,35.7 L206.3,36.0 L207.5,36.3 L208.8,36.6 L210.0,37.0 L211.3,37.4 L212.5,37.9 L213.7,38.3 L214.9,38.8 L216.1,39.4 L217.3,40.0 L218.5,40.6 L219.6,41.2 L220.8,41.9 L221.9,42.6 L223.0,43.3 L224.0,44.0 L225.1,44.8 L226.1,45.6 L227.1,46.5 L228.1,47.3 L229.1,48.2 L230.0,49.1 L230.7,49.9 L231.4,50.6 L232.1,51.4 L232.8,52.2 L233.5,53.0 L234.1,53.9 L234.8,54.7 L235.4,55.5 L236.1,56.3 L236.7,57.1 L237.4,57.9 L238.0,58.7 L238.7,59.5 L239.4,60.3 L240.0,61.1 L240.7,61.9 L241.3,62.7 L242.0,63.5 L242.7,64.3 L243.3,65.1 L244.0,65.9 L244.6,66.7 L245.2,67.6 L245.9,68.4 L246.9,70.0 L247.8,71.7 L248.7,73.3 L249.5,75.0 L250.3,76.7 L251.1,78.5 L251.7,80.2 L252.3,82.0 L252.9,83.9 L253.4,85.7 L253.8,87.5 L254.1,89.4 L254.4,91.3 L254.6,93.2 L254.8,95.1 L254.8,97.0 L254.9,98.9 L254.8,100.8 L254.7,102.6 L254.5,104.5 L254.2,106.4 L253.9,108.3 L253.6,110.1 L253.2,111.9 L252.8,113.2 L252.4,114.5 L252.0,115.8 L251.6,117.0 L251.2,118.3 L250.8,119.5 L250.3,120.7 L249.8,121.9 L249.4,123.2 L248.9,124.4 L248.4,125.6 L247.9,126.8 L247.3,128.0 L246.8,129.2 L246.3,130.4 L245.7,131.6 L245.2,132.7 L244.6,133.9 L244.0,135.1 L243.4,136.3 L242.8,137.4 L242.2,138.6 L241.5,139.7 L240.8,140.9 L240.4,141.6 L239.9,142.3 L239.4,143.1 L239.0,143.8 L238.5,144.5 L237.9,145.2 L237.4,145.8 L236.9,146.5 L236.3,147.2 L235.7,147.8 L235.2,148.4 L234.6,149.1 L233.9,149.7 L233.3,150.2 L232.6,150.8 L232.0,151.4 L231.3,151.9 L230.6,152.4 L229.9,152.9 L229.2,153.4 L228.5,153.9 L227.8,154.3 L227.1,154.8 L226.3,155.2" fill="none" stroke="#c97a44" stroke-width="0.95"/><ellipse cx="128.8" cy="50.2" rx="9.6" ry="3.6" transform="rotate(-74.2 128.8 50.2)" fill="#f7d77a" opacity="0.55"/><path d="M126.0,60.0L131.5,40.5" stroke="#e3a832" stroke-width="0.9"/><path d="M126.1,59.5L124.0,56.6M126.4,58.5L129.9,57.1M126.7,57.6L129.8,56.3M126.7,57.6L123.7,53.4M127.0,56.6L132.1,54.4M127.2,55.6L123.5,50.3M127.5,54.6L131.4,53.0M127.5,54.6L123.4,48.9M127.8,53.7L132.4,51.7M127.8,53.7L125.2,50.1M128.1,52.7L133.6,50.4M128.1,52.7L125.0,48.4M128.3,51.7L133.3,49.6M128.3,51.7L125.1,47.2M128.6,50.7L135.5,47.8M128.6,50.7L124.6,45.2M128.9,49.8L126.0,45.8M129.2,48.8L124.8,42.7M129.4,47.8L126.5,43.6M129.7,46.8L126.6,42.5M130.0,45.9L133.4,44.4M130.0,45.9L126.6,41.2M130.3,44.9L133.6,43.5M130.5,43.9L133.8,42.5M130.8,42.9L133.9,41.7M130.8,42.9L128.9,40.3M131.1,42.0L129.0,39.0M131.4,41.0L133.8,39.9" stroke="#efbf45" stroke-width="0.8" stroke-dasharray="1.1 0.45" fill="none"/><path d="M126.1,59.5L128.5,58.5M126.4,58.5L124.0,55.2M127.0,56.6L124.2,52.8M127.2,55.6L131.4,53.9M128.9,49.8L136.2,46.7M129.2,48.8L135.4,46.1M129.4,47.8L135.7,45.2M129.7,46.8L135.7,44.3M130.3,44.9L127.4,40.9M130.5,43.9L128.3,40.8M131.1,42.0L133.0,41.1M131.4,41.0L129.7,38.7" stroke="#e2a52e" stroke-width="0.6" stroke-dasharray="0.9 0.6" fill="none"/><ellipse cx="129.2" cy="151.2" rx="16.5" ry="4.3" transform="rotate(65.3 129.2 151.2)" fill="#f7d77a" opacity="0.55"/><path d="M122.0,135.5L136.5,167.0" stroke="#e3a832" stroke-width="0.9"/><path d="M122.2,136.0L126.2,137.0M122.6,136.9L120.9,140.5M123.1,137.8L121.5,140.9M123.1,137.8L128.1,139.1M123.5,138.7L121.0,143.7M123.9,139.7L130.1,141.2M124.3,140.6L122.5,144.3M124.3,140.6L131.1,142.3M124.8,141.5L122.5,146.0M124.8,141.5L129.0,142.6M125.2,142.4L122.5,147.8M125.2,142.4L130.3,143.7M125.6,143.4L123.2,148.3M125.6,143.4L131.2,144.8M126.1,144.3L122.5,151.5M126.1,144.3L133.1,146.1M126.5,145.2L131.8,146.6M126.9,146.2L135.5,148.3M127.3,147.1L133.6,148.6M127.8,148.0L135.0,149.8M128.2,148.9L125.7,153.9M128.2,148.9L136.6,151.0M128.6,149.9L125.9,155.3M129.0,150.8L125.9,157.0M129.5,151.7L126.1,158.4M129.5,151.7L136.6,153.5M129.9,152.6L138.9,154.9M130.3,153.6L127.3,159.6M130.7,154.5L127.2,161.7M130.7,154.5L138.9,156.5M131.2,155.4L138.0,157.1M131.6,156.3L129.1,161.4M131.6,156.3L139.5,158.3M132.4,158.2L129.4,164.3M132.4,158.2L138.3,159.7M132.9,159.1L138.4,160.5M133.3,160.1L131.0,164.7M133.3,160.1L137.9,161.2M133.7,161.0L138.6,162.2M134.2,161.9L132.7,164.8M134.2,161.9L137.6,162.8M135.0,163.8L138.8,164.7M135.4,164.7L134.3,166.9M135.4,164.7L139.2,165.6M135.9,165.6L138.8,166.4M136.3,166.5L135.1,169.0M136.3,166.5L139.0,167.2" stroke="#efbf45" stroke-width="0.8" stroke-dasharray="1.1 0.45" fill="none"/><path d="M122.2,136.0L120.9,138.5M122.6,136.9L126.8,137.9M123.5,138.7L128.0,139.9M123.9,139.7L121.9,143.6M126.5,145.2L122.5,153.2M126.9,146.2L123.3,153.3M127.3,147.1L123.5,154.8M127.8,148.0L123.7,156.0M128.6,149.9L136.7,151.9M129.0,150.8L136.3,152.6M129.9,152.6L127.4,157.5M130.3,153.6L137.3,155.3M131.2,155.4L128.1,161.5M132.0,157.3L128.8,163.7M132.0,157.3L139.3,159.1M132.9,159.1L131.0,162.8M133.7,161.0L131.5,165.3M134.6,162.8L132.5,167.1M134.6,162.8L139.1,163.9M135.0,163.8L133.6,166.5M135.9,165.6L134.7,168.0" stroke="#e2a52e" stroke-width="0.6" stroke-dasharray="0.9 0.6" fill="none"/><ellipse cx="141.7" cy="176.0" rx="11.8" ry="3.1" transform="rotate(75.3 141.7 176.0)" fill="#f7d77a" opacity="0.55"/><path d="M138.5,164.0L144.8,188.0" stroke="#e3a832" stroke-width="0.9"/><path d="M138.6,164.5L141.4,165.7M138.9,165.5L137.0,168.0M139.2,166.5L137.5,168.7M139.2,166.5L143.0,168.2M139.4,167.5L136.7,171.1M139.7,168.5L144.5,170.6M139.9,169.5L137.9,172.2M139.9,169.5L145.2,171.8M140.2,170.5L137.7,173.8M140.2,170.5L143.5,172.0M140.5,171.5L137.5,175.5M140.5,171.5L144.5,173.3M140.7,172.5L138.1,176.1M140.7,172.5L145.0,174.4M141.0,173.5L137.2,178.7M141.0,173.5L146.3,175.9M141.3,174.5L145.2,176.3M141.5,175.5L147.7,178.3M141.8,176.5L146.2,178.5M142.0,177.5L146.9,179.6M142.3,178.5L140.1,181.5M142.3,178.5L147.7,180.9M142.6,179.5L140.2,182.7M142.8,180.5L140.3,183.9M143.1,181.5L140.5,184.9M143.1,181.5L146.9,183.2M143.4,182.5L147.8,184.5M143.6,183.5L141.7,186.1M143.9,184.5L141.8,187.3M143.9,184.5L147.2,186.0M144.1,185.5L146.6,186.6M144.4,186.5L143.1,188.2M144.4,186.5L147.2,187.8" stroke="#efbf45" stroke-width="0.8" stroke-dasharray="1.1 0.45" fill="none"/><path d="M138.6,164.5L137.4,166.2M138.9,165.5L142.0,166.9M139.4,167.5L142.9,169.0M139.7,168.5L137.5,171.4M141.3,174.5L137.1,180.1M141.5,175.5L137.9,180.4M141.8,176.5L138.0,181.6M142.0,177.5L138.2,182.6M142.6,179.5L147.5,181.7M142.8,180.5L147.0,182.4M143.4,182.5L141.6,184.8M143.6,183.5L146.8,184.9M144.1,185.5L142.6,187.6M144.7,187.5L143.0,189.8M144.7,187.5L147.4,188.7" stroke="#e2a52e" stroke-width="0.6" stroke-dasharray="0.9 0.6" fill="none"/><ellipse cx="167.0" cy="149.2" rx="11.6" ry="2.8" transform="rotate(-10.6 167.0 149.2)" fill="#f7d77a" opacity="0.55"/><path d="M155.0,151.5L179.0,147.0" stroke="#e3a832" stroke-width="0.9"/><path d="M155.5,151.4L156.8,149.0M156.5,151.2L158.6,153.0M157.5,151.0L159.4,152.6M157.5,151.0L159.3,147.7M158.5,150.8L161.5,153.5M159.5,150.7L161.7,146.5M160.5,150.5L162.8,152.4M160.5,150.5L162.9,145.9M161.5,150.3L164.3,152.7M161.5,150.3L163.0,147.4M162.5,150.1L165.9,153.0M162.5,150.1L164.3,146.7M163.5,149.9L166.5,152.5M163.5,149.9L165.5,146.2M164.5,149.7L168.9,153.5M164.5,149.7L167.0,145.1M165.5,149.5L167.3,146.1M166.5,149.3L169.4,144.0M167.5,149.2L169.5,145.4M168.5,149.0L170.7,144.8M169.5,148.8L172.1,151.0M169.5,148.8L172.0,144.1M170.5,148.6L173.2,150.9M171.5,148.4L174.4,150.9M172.5,148.2L175.4,150.7M172.5,148.2L174.3,144.9M173.5,148.0L175.6,144.2M174.5,147.8L176.7,149.7M175.5,147.7L177.9,149.7M175.5,147.7L177.0,144.8M176.5,147.5L177.6,145.3M177.5,147.3L179.0,148.5M177.5,147.3L178.8,144.8" stroke="#efbf45" stroke-width="0.8" stroke-dasharray="1.1 0.45" fill="none"/><path d="M155.5,151.4L156.9,152.7M156.5,151.2L157.9,148.6M158.5,150.8L160.1,147.8M159.5,150.7L162.0,152.8M165.5,149.5L170.2,153.6M166.5,149.3L170.7,152.9M167.5,149.2L171.8,152.9M168.5,149.0L172.8,152.7M170.5,148.6L172.8,144.3M171.5,148.4L173.4,144.8M173.5,148.0L175.4,149.7M174.5,147.8L176.0,145.1M176.5,147.5L178.3,149.0M178.5,147.1L180.4,148.8M178.5,147.1L179.8,144.7" stroke="#e2a52e" stroke-width="0.6" stroke-dasharray="0.9 0.6" fill="none"/><ellipse cx="171.0" cy="160.2" rx="9.7" ry="2.6" transform="rotate(-12.7 171.0 160.2)" fill="#f7d77a" opacity="0.55"/><path d="M161.0,162.5L181.0,158.0" stroke="#e3a832" stroke-width="0.9"/><path d="M161.5,162.4L162.7,160.0M162.5,162.2L164.6,163.9M163.5,161.9L165.4,163.5M163.5,161.9L165.1,158.6M164.5,161.7L167.6,164.2M165.5,161.5L167.6,157.3M166.5,161.3L168.9,163.2M166.5,161.3L168.8,156.6M167.5,161.0L170.4,163.3M167.5,161.0L168.9,158.1M168.5,160.8L171.9,163.5M168.5,160.8L170.2,157.4M169.5,160.6L172.5,163.0M169.5,160.6L171.3,156.9M170.5,160.4L174.8,163.8M170.5,160.4L172.7,155.9M171.5,160.1L173.1,156.9M172.5,159.9L174.9,155.0M173.5,159.7L175.1,156.3M174.5,159.5L176.2,155.9M175.5,159.2L177.6,160.9M175.5,159.2L177.3,155.5M176.5,159.0L178.5,160.7M177.5,158.8L179.5,160.4M178.5,158.6L180.4,160.1M178.5,158.6L179.5,156.4M179.5,158.3L180.7,156.0M180.5,158.1L182.0,159.3" stroke="#efbf45" stroke-width="0.8" stroke-dasharray="1.1 0.45" fill="none"/><path d="M161.5,162.4L162.9,163.5M162.5,162.2L163.8,159.5M164.5,161.7L166.0,158.6M165.5,161.5L168.1,163.5M171.5,160.1L176.0,163.7M172.5,159.9L176.4,163.0M173.5,159.7L177.4,162.8M174.5,159.5L178.2,162.4M176.5,159.0L178.1,155.8M177.5,158.8L178.7,156.3M179.5,158.3L180.7,159.3M180.5,158.1L181.4,156.2" stroke="#e2a52e" stroke-width="0.6" stroke-dasharray="0.9 0.6" fill="none"/><ellipse cx="170.5" cy="178.8" rx="11.0" ry="3.1" transform="rotate(52.9 170.5 178.8)" fill="#f7d77a" opacity="0.55"/><path d="M163.5,169.5L177.5,188.0" stroke="#e3a832" stroke-width="0.9"/><path d="M163.8,169.9L166.9,170.0M164.4,170.7L163.6,173.7M165.0,171.5L164.3,174.2M165.0,171.5L169.3,171.6M165.6,172.3L164.5,176.7M166.2,173.1L171.6,173.3M166.8,173.9L166.0,177.3M166.8,173.9L172.7,174.1M167.5,174.7L166.4,178.8M167.5,174.7L171.1,174.8M168.1,175.5L166.8,180.4M168.1,175.5L172.5,175.7M168.7,176.3L167.6,180.7M168.7,176.3L173.4,176.5M169.3,177.1L167.7,183.4M169.3,177.1L175.2,177.3M169.9,177.9L174.2,178.1M170.5,178.8L177.3,178.9M171.1,179.6L175.9,179.7M171.7,180.4L176.9,180.5M172.3,181.2L171.4,184.7M172.3,181.2L178.1,181.3M172.9,182.0L172.0,185.7M173.5,182.8L172.6,186.7M174.2,183.6L173.2,187.4M174.2,183.6L178.1,183.7M174.8,184.4L179.2,184.5M175.4,185.2L174.7,188.0M176.0,186.0L175.2,188.9M176.0,186.0L179.2,186.1M176.6,186.8L179.2,186.9M177.2,187.6L176.7,189.7M177.2,187.6L180.3,187.7" stroke="#efbf45" stroke-width="0.8" stroke-dasharray="1.1 0.45" fill="none"/><path d="M163.8,169.9L163.3,172.0M164.4,170.7L167.8,170.8M165.6,172.3L169.5,172.4M166.2,173.1L165.3,176.7M169.9,177.9L168.2,184.7M170.5,178.8L169.0,184.7M171.1,179.6L169.6,185.7M171.7,180.4L170.2,186.4M172.9,182.0L178.1,182.1M173.5,182.8L177.9,182.9M174.8,184.4L174.1,186.9M175.4,185.2L178.5,185.3M176.6,186.8L176.0,189.2" stroke="#e2a52e" stroke-width="0.6" stroke-dasharray="0.9 0.6" fill="none"/><path d="M204,34.5 C190,33 175,32.5 163,36.5 C152,40 145,44 138.5,49 C130,57 124,70 121,80 C118.5,90 117.6,100 117.6,110" fill="none" stroke="#13281b" stroke-width="1.1"/><path d="M125,133 C129,140 133,145 136.5,148 C141,153 147,160 152,162.5 C160,166 168,169 174,169.5 C182,170 193,170 200,168.5 C210,166 220,160 228,154.5" fill="none" stroke="#13281b" stroke-width="1.1"/><path d="M141,47 L146.5,44 M138,56 L144,60.5" stroke="#1d3b28" stroke-width="0.8"/><path d="M177.9,33.0C182.4,38.6 195.6,38.6 204.3,34.1C196.0,29.9 182.8,28.8 177.9,33.0Z" fill="#33b06e" stroke="#0a2516" stroke-width="1.15" stroke-linejoin="round"/><path d="M179.2,33.2Q191.1,33.9 200.3,34.2" fill="none" stroke="#123d25" stroke-width="0.65" stroke-dasharray="1.2 0.5"/><path d="M163.2,35.8C169.1,38.2 178.7,32.4 182.9,25.1C174.5,24.7 164.4,29.6 163.2,35.8Z" fill="#33b06e" stroke="#0a2516" stroke-width="1.15" stroke-linejoin="round"/><path d="M164.2,35.3Q173.1,30.4 179.9,26.7" fill="none" stroke="#123d25" stroke-width="0.65" stroke-dasharray="1.2 0.5"/><path d="M172.2,34.7C174.0,40.3 183.7,43.8 191.4,42.6C186.8,36.4 177.4,32.0 172.2,34.7Z" fill="#33b06e" stroke="#0a2516" stroke-width="1.15" stroke-linejoin="round"/><path d="M173.2,35.1Q181.8,38.7 188.5,41.4" fill="none" stroke="#123d25" stroke-width="0.65" stroke-dasharray="1.2 0.5"/><path d="M149.7,38.6C155.8,38.5 161.3,29.9 161.6,22.0C154.2,24.8 147.9,32.8 149.7,38.6Z" fill="#33b06e" stroke="#0a2516" stroke-width="1.15" stroke-linejoin="round"/><path d="M150.3,37.8Q155.6,30.3 159.8,24.5" fill="none" stroke="#123d25" stroke-width="0.65" stroke-dasharray="1.2 0.5"/><path d="M154.2,40.3C157.9,45.6 169.8,46.5 177.9,43.1C170.8,37.9 159.0,36.0 154.2,40.3Z" fill="#33b06e" stroke="#0a2516" stroke-width="1.15" stroke-linejoin="round"/><path d="M155.4,40.4Q166.1,41.7 174.3,42.7" fill="none" stroke="#123d25" stroke-width="0.65" stroke-dasharray="1.2 0.5"/><path d="M136.2,53.8C141.1,58.8 153.8,57.4 161.6,52.1C153.2,47.9 140.4,48.2 136.2,53.8Z" fill="#33b06e" stroke="#0a2516" stroke-width="1.15" stroke-linejoin="round"/><path d="M137.5,53.7Q148.9,53.0 157.8,52.4" fill="none" stroke="#123d25" stroke-width="0.65" stroke-dasharray="1.2 0.5"/><path d="M123.8,71.5C130.2,71.7 135.7,63.2 135.6,55.2C128.0,57.6 121.6,65.5 123.8,71.5Z" fill="#33b06e" stroke="#0a2516" stroke-width="1.15" stroke-linejoin="round"/><path d="M124.4,70.7Q129.7,63.4 133.8,57.6" fill="none" stroke="#123d25" stroke-width="0.65" stroke-dasharray="1.2 0.5"/><path d="M118.7,83.9C124.3,79.5 123.5,67.7 118.2,60.2C113.3,67.9 112.9,79.8 118.7,83.9Z" fill="#33b06e" stroke="#0a2516" stroke-width="1.15" stroke-linejoin="round"/><path d="M118.7,82.7Q118.5,72.1 118.3,63.8" fill="none" stroke="#123d25" stroke-width="0.65" stroke-dasharray="1.2 0.5"/><path d="M122.7,83.9C128.5,85.9 134.9,79.8 136.2,72.6C128.8,72.6 121.7,77.8 122.7,83.9Z" fill="#33b06e" stroke="#0a2516" stroke-width="1.15" stroke-linejoin="round"/><path d="M123.4,83.3Q129.4,78.2 134.2,74.3" fill="none" stroke="#123d25" stroke-width="0.65" stroke-dasharray="1.2 0.5"/><path d="M115.9,97.4C120.0,92.1 116.1,83.0 109.2,78.8C106.5,86.5 109.3,96.0 115.9,97.4Z" fill="#33b06e" stroke="#0a2516" stroke-width="1.15" stroke-linejoin="round"/><path d="M115.6,96.5Q112.6,88.1 110.2,81.6" fill="none" stroke="#123d25" stroke-width="0.65" stroke-dasharray="1.2 0.5"/><path d="M118.7,96.2C124.2,97.8 130.1,91.8 131.1,85.0C124.2,85.3 117.7,90.6 118.7,96.2Z" fill="#33b06e" stroke="#0a2516" stroke-width="1.15" stroke-linejoin="round"/><path d="M119.3,95.6Q124.9,90.6 129.2,86.7" fill="none" stroke="#123d25" stroke-width="0.65" stroke-dasharray="1.2 0.5"/><path d="M116.5,109.7C118.2,102.9 110.7,96.6 102.4,96.2C103.1,104.5 109.8,111.7 116.5,109.7Z" fill="#33b06e" stroke="#0a2516" stroke-width="1.15" stroke-linejoin="round"/><path d="M115.8,109.0Q109.5,103.0 104.5,98.2" fill="none" stroke="#123d25" stroke-width="0.65" stroke-dasharray="1.2 0.5"/><path d="M121.0,99.0C120.6,103.4 125.4,105.6 130.0,104.0C128.9,99.2 124.6,96.4 121.0,99.0Z" fill="#33b06e" stroke="#0a2516" stroke-width="1.15" stroke-linejoin="round"/><path d="M121.5,99.2Q125.5,101.5 128.7,103.2" fill="none" stroke="#123d25" stroke-width="0.65" stroke-dasharray="1.2 0.5"/><path d="M112.0,125.8C107.9,119.9 97.7,121.2 91.4,127.0C98.3,132.1 108.6,132.1 112.0,125.8Z" fill="#33b06e" stroke="#0a2516" stroke-width="1.15" stroke-linejoin="round"/><path d="M111.0,125.9Q101.7,126.4 94.5,126.8" fill="none" stroke="#123d25" stroke-width="0.65" stroke-dasharray="1.2 0.5"/><path d="M116.1,132.6C109.1,132.1 104.0,140.6 104.9,148.9C113.0,146.8 119.1,139.0 116.1,132.6Z" fill="#33b06e" stroke="#0a2516" stroke-width="1.15" stroke-linejoin="round"/><path d="M115.5,133.4Q110.5,140.8 106.6,146.5" fill="none" stroke="#123d25" stroke-width="0.65" stroke-dasharray="1.2 0.5"/><path d="M129.0,137.5C131.5,143.7 143.5,147.7 152.6,146.5C146.6,139.5 135.0,134.6 129.0,137.5Z" fill="#33b06e" stroke="#0a2516" stroke-width="1.15" stroke-linejoin="round"/><path d="M130.2,137.9Q140.8,142.0 149.1,145.2" fill="none" stroke="#123d25" stroke-width="0.65" stroke-dasharray="1.2 0.5"/><path d="M137.3,148.8C140.2,154.8 152.5,158.3 161.6,156.6C155.2,149.9 143.2,145.6 137.3,148.8Z" fill="#33b06e" stroke="#0a2516" stroke-width="1.15" stroke-linejoin="round"/><path d="M138.5,149.2Q149.4,152.7 158.0,155.4" fill="none" stroke="#123d25" stroke-width="0.65" stroke-dasharray="1.2 0.5"/><path d="M137.3,149.5C135.2,156.1 142.2,166.3 150.4,170.5C150.2,161.3 144.1,150.5 137.3,149.5Z" fill="#33b06e" stroke="#0a2516" stroke-width="1.15" stroke-linejoin="round"/><path d="M138.0,150.6Q143.9,160.0 148.4,167.3" fill="none" stroke="#123d25" stroke-width="0.65" stroke-dasharray="1.2 0.5"/><path d="M147.0,159.3C148.8,165.9 159.9,170.2 168.8,169.0C163.7,161.6 153.1,156.2 147.0,159.3Z" fill="#33b06e" stroke="#0a2516" stroke-width="1.15" stroke-linejoin="round"/><path d="M148.1,159.8Q157.9,164.2 165.5,167.5" fill="none" stroke="#123d25" stroke-width="0.65" stroke-dasharray="1.2 0.5"/><path d="M175.9,169.5C181.9,171.7 191.8,165.6 196.1,158.2C187.5,158.0 177.2,163.2 175.9,169.5Z" fill="#33b06e" stroke="#0a2516" stroke-width="1.15" stroke-linejoin="round"/><path d="M176.9,168.9Q186.0,163.8 193.1,159.9" fill="none" stroke="#123d25" stroke-width="0.65" stroke-dasharray="1.2 0.5"/><path d="M193.9,168.4C200.2,169.3 208.6,161.4 211.3,153.2C202.9,154.8 193.8,162.0 193.9,168.4Z" fill="#33b06e" stroke="#0a2516" stroke-width="1.15" stroke-linejoin="round"/><path d="M194.8,167.6Q202.6,160.8 208.7,155.5" fill="none" stroke="#123d25" stroke-width="0.65" stroke-dasharray="1.2 0.5"/><path d="M204.0,167.2C210.7,169.2 222.8,162.3 228.7,154.3C218.8,154.6 206.2,160.6 204.0,167.2Z" fill="#33b06e" stroke="#0a2516" stroke-width="1.15" stroke-linejoin="round"/><path d="M205.2,166.6Q216.3,160.8 225.0,156.2" fill="none" stroke="#123d25" stroke-width="0.65" stroke-dasharray="1.2 0.5"/><path d="M192.7,170.0C195.3,175.7 206.1,178.1 214.1,175.7C208.4,169.7 197.8,166.3 192.7,170.0Z" fill="#33b06e" stroke="#0a2516" stroke-width="1.15" stroke-linejoin="round"/><path d="M193.8,170.3Q203.4,172.8 210.9,174.8" fill="none" stroke="#123d25" stroke-width="0.65" stroke-dasharray="1.2 0.5"/><path d="M174.7,170.6C175.4,177.0 185.2,183.4 193.9,184.1C190.3,176.2 181.0,169.0 174.7,170.6Z" fill="#33b06e" stroke="#0a2516" stroke-width="1.15" stroke-linejoin="round"/><path d="M175.7,171.3Q184.3,177.3 191.0,182.1" fill="none" stroke="#123d25" stroke-width="0.65" stroke-dasharray="1.2 0.5"/><circle cx="146.9" cy="43.7" r="6.3" fill="#d62862" stroke="#4a0a1c" stroke-width="1"/><circle cx="149.1" cy="42.4" r="1.8" fill="#3a0a16"/><path d="M143.1,43.1a3.8,3.8 0 0 1 3.1,-3.1" stroke="#f07aa0" stroke-width="0.6" fill="none" opacity="0.6"/><circle cx="144.7" cy="61.1" r="5.9" fill="#d62862" stroke="#4a0a1c" stroke-width="1"/><circle cx="146.8" cy="59.9" r="1.7" fill="#3a0a16"/><path d="M141.2,60.5a3.5,3.5 0 0 1 3.0,-3.0" stroke="#f07aa0" stroke-width="0.6" fill="none" opacity="0.6"/><circle cx="113.4" cy="119.2" r="6.4" fill="#d62862" stroke="#4a0a1c" stroke-width="1"/><circle cx="115.6" cy="117.9" r="1.8" fill="#3a0a16"/><path d="M109.6,118.6a3.8,3.8 0 0 1 3.2,-3.2" stroke="#f07aa0" stroke-width="0.6" fill="none" opacity="0.6"/><circle cx="122.3" cy="128.7" r="6.4" fill="#d62862" stroke="#4a0a1c" stroke-width="1"/><circle cx="124.5" cy="127.4" r="1.8" fill="#3a0a16"/><path d="M118.5,128.1a3.8,3.8 0 0 1 3.2,-3.2" stroke="#f07aa0" stroke-width="0.6" fill="none" opacity="0.6"/><circle cx="125.7" cy="116" r="6.4" fill="#d62862" stroke="#4a0a1c" stroke-width="1"/><circle cx="127.9" cy="114.7" r="1.8" fill="#3a0a16"/><path d="M121.9,115.4a3.8,3.8 0 0 1 3.2,-3.2" stroke="#f07aa0" stroke-width="0.6" fill="none" opacity="0.6"/><path d="M120,101 L134.5,115.5" stroke="#9c5b32" stroke-width="2.2" stroke-linecap="round"/><path d="M164.4,115.9 L176.1,99.5 M170.9,109.4 L179.8,109.4" stroke="#9c5b32" stroke-width="2.2" stroke-linecap="round"/><circle cx="149.2" cy="128" r="16.3" fill="#f3f6f8" stroke="#222" stroke-width="0.95"/><ellipse cx="148.2" cy="98.5" rx="13" ry="11.5" fill="#f7f9fa" stroke="#222" stroke-width="0.95"/><path d="M136.5,107.5 Q148.5,110 161,107.5 L161.5,114 Q148.5,116.5 136.5,114 Z" fill="#cc2560" stroke="#6a1030" stroke-width="0.6"/><path d="M154.5,114 L161.5,113.5 L167,126.5 L159.5,134.7 L156,123 Z" fill="#dc3878" stroke="#6a1030" stroke-width="0.6"/><circle cx="145.6" cy="77.6" r="5.4" fill="#e4f3f6" stroke="#2c2c2c" stroke-width="0.8"/><path d="M137.5,87 Q138.5,79 147,79.5 Q155.5,79.5 157,87 Z" fill="#dc3278" stroke="#2c2c2c" stroke-width="0.7"/><path d="M134,91.5 Q134,85 147.5,84.8 Q161.5,85 162,92 Q161,94.8 158,93.5 Q148,89.5 138,93.5 Q134.5,94.8 134,91.5 Z" fill="#e2f1f5" stroke="#2c2c2c" stroke-width="0.7"/><circle cx="141.6" cy="96.6" r="1.8" fill="#111"/><circle cx="154.2" cy="95.8" r="1.8" fill="#111"/><circle cx="148.6" cy="99.3" r="2.2" fill="#eb9a50"/><path d="M140.2,101.4 Q148.4,107.5 156.4,100.9" fill="none" stroke="#222" stroke-width="0.8"/><circle cx="150.3" cy="120.2" r="1.8" fill="#111"/><circle cx="150.8" cy="130" r="1.8" fill="#111"/><ellipse cx="141.2" cy="133.4" rx="11.0" ry="3.0" transform="rotate(27.8 141.2 133.4)" fill="#f7d77a" opacity="0.55"/><path d="M131.0,128.0L151.5,138.8" stroke="#e3a832" stroke-width="0.9"/><path d="M131.4,128.2L134.1,127.1M132.3,128.7L132.9,131.6M133.2,129.2L133.7,131.7M133.2,129.2L136.9,127.6M134.1,129.6L134.9,133.9M135.0,130.1L139.6,128.1M135.9,130.6L136.5,133.8M135.9,130.6L141.0,128.4M136.8,131.1L137.5,134.9M136.8,131.1L140.0,129.7M137.7,131.5L138.6,136.2M137.7,131.5L141.5,129.9M138.6,132.0L139.4,136.2M138.6,132.0L142.7,130.2M139.5,132.5L140.6,138.5M139.5,132.5L144.6,130.2M140.4,132.9L144.1,131.3M141.2,133.4L147.1,130.8M142.1,133.9L146.3,132.1M143.0,134.3L147.5,132.4M143.9,134.8L144.6,138.2M143.9,134.8L148.9,132.6M144.8,135.3L145.5,138.8M145.7,135.7L146.4,139.5M146.6,136.2L147.3,139.9M146.6,136.2L150.0,134.7M147.5,136.7L151.4,135.0M148.4,137.2L148.9,139.9M149.3,137.6L149.8,140.5M149.3,137.6L152.0,136.4M150.2,138.1L152.4,137.1M151.1,138.6L151.4,140.6M151.1,138.6L153.7,137.4" stroke="#efbf45" stroke-width="0.8" stroke-dasharray="1.1 0.45" fill="none"/><path d="M131.4,128.2L131.8,130.2M132.3,128.7L135.3,127.4M134.1,129.6L137.5,128.2M135.0,130.1L135.7,133.5M140.4,132.9L141.6,139.4M141.2,133.4L142.3,139.1M142.1,133.9L143.3,139.7M143.0,134.3L144.2,140.2M144.8,135.3L149.3,133.3M145.7,135.7L149.5,134.1M147.5,136.7L148.0,139.1M148.4,137.2L151.1,136.0M150.2,138.1L150.6,140.4" stroke="#e2a52e" stroke-width="0.6" stroke-dasharray="0.9 0.6" fill="none"/><path d="M129.0,137.5C131.5,143.7 143.5,147.7 152.6,146.5C146.6,139.6 135.0,134.6 129.0,137.5Z" fill="#33b06e" stroke="#0a2516" stroke-width="1.15" stroke-linejoin="round"/><path d="M130.2,137.9Q140.8,142.0 149.1,145.2" fill="none" stroke="#123d25" stroke-width="0.65" stroke-dasharray="1.2 0.5"/></g><g transform="translate(533.6,0)"><rect x="90" y="15.5" width="166" height="175.5" fill="#fcfcfc"/><path d="M202.4,35.2 L203.8,35.3 L205.1,35.4 L206.4,35.5 L207.7,35.7 L209.0,35.9 L210.3,36.2 L211.6,36.5 L212.9,36.9 L214.2,37.3 L215.4,37.8 L216.6,38.3 L217.8,38.9 L219.0,39.5 L220.2,40.2 L221.3,40.9 L222.4,41.7 L223.4,42.5 L224.5,43.4 L225.5,44.2 L226.4,45.2 L227.4,46.1 L228.3,47.1 L229.2,48.1 L230.0,49.1 L230.6,50.0 L231.1,51.0 L231.6,52.0 L232.1,53.0 L232.6,53.9 L233.1,54.8 L233.7,55.7 L234.2,56.6 L234.7,57.5 L235.3,58.3 L235.9,59.1 L236.5,59.9 L237.2,60.7 L237.9,61.4 L238.6,62.1 L239.3,62.9 L240.1,63.6 L240.9,64.2 L241.7,64.9 L242.5,65.6 L243.3,66.3 L244.2,67.0 L245.0,67.7 L245.9,68.4 L247.1,69.9 L248.2,71.5 L249.3,73.0 L250.4,74.7 L251.4,76.3 L252.3,78.1 L253.1,79.8 L253.9,81.6 L254.5,83.4 L255.1,85.3 L255.6,87.2 L255.9,89.1 L256.2,91.0 L256.4,93.0 L256.4,94.9 L256.4,96.9 L256.3,98.8 L256.1,100.8 L255.8,102.7 L255.4,104.6 L254.9,106.5 L254.4,108.3 L253.8,110.1 L253.2,111.9 L252.6,113.2 L252.0,114.4 L251.4,115.6 L250.8,116.8 L250.2,118.0 L249.6,119.2 L249.0,120.3 L248.4,121.5 L247.9,122.6 L247.3,123.8 L246.8,125.0 L246.3,126.1 L245.8,127.3 L245.3,128.5 L244.9,129.7 L244.4,130.9 L244.0,132.1 L243.6,133.3 L243.1,134.6 L242.7,135.8 L242.2,137.1 L241.8,138.4 L241.3,139.6 L240.8,140.9 L240.5,141.7 L240.1,142.5 L239.8,143.3 L239.4,144.1 L239.0,144.9 L238.6,145.7 L238.1,146.5 L237.6,147.2 L237.1,147.9 L236.6,148.6 L236.0,149.3 L235.4,149.9 L234.7,150.5 L234.1,151.1 L233.4,151.6 L232.7,152.1 L231.9,152.6 L231.2,153.0 L230.4,153.5 L229.6,153.9 L228.8,154.2 L228.0,154.6 L227.1,154.9 L226.3,155.2" fill="none" stroke="#c97a44" stroke-width="0.95"/><path d="M202.4,35.2 L203.6,35.7 L204.8,36.3 L206.0,36.8 L207.2,37.4 L208.3,38.0 L209.5,38.6 L210.6,39.2 L211.7,39.8 L212.8,40.4 L214.0,41.0 L215.1,41.5 L216.2,42.1 L217.4,42.7 L218.5,43.2 L219.6,43.8 L220.8,44.4 L221.9,44.9 L223.1,45.5 L224.2,46.0 L225.4,46.6 L226.6,47.2 L227.7,47.8 L228.9,48.4 L230.0,49.1 L231.1,49.5 L232.1,49.9 L233.2,50.3 L234.2,50.8 L235.2,51.3 L236.2,51.8 L237.1,52.4 L238.0,53.1 L238.9,53.8 L239.7,54.5 L240.5,55.3 L241.2,56.1 L241.8,57.0 L242.5,57.9 L243.0,58.8 L243.5,59.8 L244.0,60.8 L244.4,61.9 L244.7,62.9 L245.0,64.0 L245.3,65.1 L245.5,66.2 L245.7,67.3 L245.9,68.4 L246.4,70.3 L246.9,72.1 L247.4,73.9 L247.8,75.7 L248.2,77.5 L248.5,79.3 L248.9,81.1 L249.2,82.9 L249.5,84.7 L249.8,86.5 L250.1,88.3 L250.4,90.0 L250.7,91.8 L251.0,93.6 L251.3,95.4 L251.6,97.1 L251.9,98.9 L252.1,100.8 L252.4,102.6 L252.6,104.4 L252.8,106.3 L253.0,108.2 L253.1,110.0 L253.2,111.9 L253.3,113.3 L253.3,114.7 L253.3,116.1 L253.3,117.4 L253.3,118.8 L253.1,120.2 L253.0,121.6 L252.7,122.9 L252.4,124.3 L252.0,125.6 L251.6,126.9 L251.1,128.2 L250.5,129.4 L249.9,130.6 L249.2,131.8 L248.4,133.0 L247.6,134.1 L246.8,135.2 L245.8,136.2 L244.9,137.2 L243.9,138.2 L242.9,139.1 L241.9,140.0 L240.8,140.9 L240.1,141.4 L239.4,142.0 L238.7,142.5 L238.0,143.0 L237.3,143.5 L236.6,144.0 L236.0,144.6 L235.3,145.1 L234.7,145.6 L234.1,146.2 L233.4,146.8 L232.8,147.3 L232.3,147.9 L231.7,148.5 L231.1,149.1 L230.6,149.8 L230.0,150.4 L229.5,151.1 L229.0,151.8 L228.5,152.5 L227.9,153.1 L227.4,153.8 L226.9,154.5 L226.3,155.2" fill="none" stroke="#c97a44" stroke-width="0.95"/><path d="M202.4,35.2 L203.7,35.4 L205.0,35.7 L206.3,36.0 L207.5,36.3 L208.8,36.6 L210.0,37.0 L211.3,37.4 L212.5,37.9 L213.7,38.3 L214.9,38.8 L216.1,39.4 L217.3,40.0 L218.5,40.6 L219.6,41.2 L220.8,41.9 L221.9,42.6 L223.0,43.3 L224.0,44.0 L225.1,44.8 L226.1,45.6 L227.1,46.5 L228.1,47.3 L229.1,48.2 L230.0,49.1 L230.7,49.9 L231.4,50.6 L232.1,51.4 L232.8,52.2 L233.5,53.0 L234.1,53.9 L234.8,54.7 L235.4,55.5 L236.1,56.3 L236.7,57.1 L237.4,57.9 L238.0,58.7 L238.7,59.5 L239.4,60.3 L240.0,61.1 L240.7,61.9 L241.3,62.7 L242.0,63.5 L242.7,64.3 L243.3,65.1 L244.0,65.9 L244.6,66.7 L245.2,67.6 L245.9,68.4 L246.9,70.0 L247.8,71.7 L248.7,73.3 L249.5,75.0 L250.3,76.7 L251.1,78.5 L251.7,80.2 L252.3,82.0 L252.9,83.9 L253.4,85.7 L253.8,87.5 L254.1,89.4 L254.4,91.3 L254.6,93.2 L254.8,95.1 L254.8,97.0 L254.9,98.9 L254.8,100.8 L254.7,102.6 L254.5,104.5 L254.2,106.4 L253.9,108.3 L253.6,110.1 L253.2,111.9 L252.8,113.2 L252.4,114.5 L252.0,115.8 L251.6,117.0 L251.2,118.3 L250.8,119.5 L250.3,120.7 L249.8,121.9 L249.4,123.2 L248.9,124.4 L248.4,125.6 L247.9,126.8 L247.3,128.0 L246.8,129.2 L246.3,130.4 L245.7,131.6 L245.2,132.7 L244.6,133.9 L244.0,135.1 L243.4,136.3 L242.8,137.4 L242.2,138.6 L241.5,139.7 L240.8,140.9 L240.4,141.6 L239.9,142.3 L239.4,143.1 L239.0,143.8 L238.5,144.5 L237.9,145.2 L237.4,145.8 L236.9,146.5 L236.3,147.2 L235.7,147.8 L235.2,148.4 L234.6,149.1 L233.9,149.7 L233.3,150.2 L232.6,150.8 L232.0,151.4 L231.3,151.9 L230.6,152.4 L229.9,152.9 L229.2,153.4 L228.5,153.9 L227.8,154.3 L227.1,154.8 L226.3,155.2" fill="none" stroke="#c97a44" stroke-width="0.95"/><ellipse cx="128.8" cy="50.2" rx="9.6" ry="3.6" transform="rotate(-74.2 128.8 50.2)" fill="#f7d77a" opacity="0.55"/><path d="M126.0,60.0L131.5,40.5" stroke="#e3a832" stroke-width="0.9"/><path d="M126.1,59.5L124.0,56.6M126.4,58.5L129.9,57.1M126.7,57.6L129.8,56.3M126.7,57.6L123.7,53.4M127.0,56.6L132.1,54.4M127.2,55.6L123.5,50.3M127.5,54.6L131.4,53.0M127.5,54.6L123.4,48.9M127.8,53.7L132.4,51.7M127.8,53.7L125.2,50.1M128.1,52.7L133.6,50.4M128.1,52.7L125.0,48.4M128.3,51.7L133.3,49.6M128.3,51.7L125.1,47.2M128.6,50.7L135.5,47.8M128.6,50.7L124.6,45.2M128.9,49.8L126.0,45.8M129.2,48.8L124.8,42.7M129.4,47.8L126.5,43.6M129.7,46.8L126.6,42.5M130.0,45.9L133.4,44.4M130.0,45.9L126.6,41.2M130.3,44.9L133.6,43.5M130.5,43.9L133.8,42.5M130.8,42.9L133.9,41.7M130.8,42.9L128.9,40.3M131.1,42.0L129.0,39.0M131.4,41.0L133.8,39.9" stroke="#efbf45" stroke-width="0.8" stroke-dasharray="1.1 0.45" fill="none"/><path d="M126.1,59.5L128.5,58.5M126.4,58.5L124.0,55.2M127.0,56.6L124.2,52.8M127.2,55.6L131.4,53.9M128.9,49.8L136.2,46.7M129.2,48.8L135.4,46.1M129.4,47.8L135.7,45.2M129.7,46.8L135.7,44.3M130.3,44.9L127.4,40.9M130.5,43.9L128.3,40.8M131.1,42.0L133.0,41.1M131.4,41.0L129.7,38.7" stroke="#e2a52e" stroke-width="0.6" stroke-dasharray="0.9 0.6" fill="none"/><ellipse cx="129.2" cy="151.2" rx="16.5" ry="4.3" transform="rotate(65.3 129.2 151.2)" fill="#f7d77a" opacity="0.55"/><path d="M122.0,135.5L136.5,167.0" stroke="#e3a832" stroke-width="0.9"/><path d="M122.2,136.0L126.2,137.0M122.6,136.9L120.9,140.5M123.1,137.8L121.5,140.9M123.1,137.8L128.1,139.1M123.5,138.7L121.0,143.7M123.9,139.7L130.1,141.2M124.3,140.6L122.5,144.3M124.3,140.6L131.1,142.3M124.8,141.5L122.5,146.0M124.8,141.5L129.0,142.6M125.2,142.4L122.5,147.8M125.2,142.4L130.3,143.7M125.6,143.4L123.2,148.3M125.6,143.4L131.2,144.8M126.1,144.3L122.5,151.5M126.1,144.3L133.1,146.1M126.5,145.2L131.8,146.6M126.9,146.2L135.5,148.3M127.3,147.1L133.6,148.6M127.8,148.0L135.0,149.8M128.2,148.9L125.7,153.9M128.2,148.9L136.6,151.0M128.6,149.9L125.9,155.3M129.0,150.8L125.9,157.0M129.5,151.7L126.1,158.4M129.5,151.7L136.6,153.5M129.9,152.6L138.9,154.9M130.3,153.6L127.3,159.6M130.7,154.5L127.2,161.7M130.7,154.5L138.9,156.5M131.2,155.4L138.0,157.1M131.6,156.3L129.1,161.4M131.6,156.3L139.5,158.3M132.4,158.2L129.4,164.3M132.4,158.2L138.3,159.7M132.9,159.1L138.4,160.5M133.3,160.1L131.0,164.7M133.3,160.1L137.9,161.2M133.7,161.0L138.6,162.2M134.2,161.9L132.7,164.8M134.2,161.9L137.6,162.8M135.0,163.8L138.8,164.7M135.4,164.7L134.3,166.9M135.4,164.7L139.2,165.6M135.9,165.6L138.8,166.4M136.3,166.5L135.1,169.0M136.3,166.5L139.0,167.2" stroke="#efbf45" stroke-width="0.8" stroke-dasharray="1.1 0.45" fill="none"/><path d="M122.2,136.0L120.9,138.5M122.6,136.9L126.8,137.9M123.5,138.7L128.0,139.9M123.9,139.7L121.9,143.6M126.5,145.2L122.5,153.2M126.9,146.2L123.3,153.3M127.3,147.1L123.5,154.8M127.8,148.0L123.7,156.0M128.6,149.9L136.7,151.9M129.0,150.8L136.3,152.6M129.9,152.6L127.4,157.5M130.3,153.6L137.3,155.3M131.2,155.4L128.1,161.5M132.0,157.3L128.8,163.7M132.0,157.3L139.3,159.1M132.9,159.1L131.0,162.8M133.7,161.0L131.5,165.3M134.6,162.8L132.5,167.1M134.6,162.8L139.1,163.9M135.0,163.8L133.6,166.5M135.9,165.6L134.7,168.0" stroke="#e2a52e" stroke-width="0.6" stroke-dasharray="0.9 0.6" fill="none"/><ellipse cx="141.7" cy="176.0" rx="11.8" ry="3.1" transform="rotate(75.3 141.7 176.0)" fill="#f7d77a" opacity="0.55"/><path d="M138.5,164.0L144.8,188.0" stroke="#e3a832" stroke-width="0.9"/><path d="M138.6,164.5L141.4,165.7M138.9,165.5L137.0,168.0M139.2,166.5L137.5,168.7M139.2,166.5L143.0,168.2M139.4,167.5L136.7,171.1M139.7,168.5L144.5,170.6M139.9,169.5L137.9,172.2M139.9,169.5L145.2,171.8M140.2,170.5L137.7,173.8M140.2,170.5L143.5,172.0M140.5,171.5L137.5,175.5M140.5,171.5L144.5,173.3M140.7,172.5L138.1,176.1M140.7,172.5L145.0,174.4M141.0,173.5L137.2,178.7M141.0,173.5L146.3,175.9M141.3,174.5L145.2,176.3M141.5,175.5L147.7,178.3M141.8,176.5L146.2,178.5M142.0,177.5L146.9,179.6M142.3,178.5L140.1,181.5M142.3,178.5L147.7,180.9M142.6,179.5L140.2,182.7M142.8,180.5L140.3,183.9M143.1,181.5L140.5,184.9M143.1,181.5L146.9,183.2M143.4,182.5L147.8,184.5M143.6,183.5L141.7,186.1M143.9,184.5L141.8,187.3M143.9,184.5L147.2,186.0M144.1,185.5L146.6,186.6M144.4,186.5L143.1,188.2M144.4,186.5L147.2,187.8" stroke="#efbf45" stroke-width="0.8" stroke-dasharray="1.1 0.45" fill="none"/><path d="M138.6,164.5L137.4,166.2M138.9,165.5L142.0,166.9M139.4,167.5L142.9,169.0M139.7,168.5L137.5,171.4M141.3,174.5L137.1,180.1M141.5,175.5L137.9,180.4M141.8,176.5L138.0,181.6M142.0,177.5L138.2,182.6M142.6,179.5L147.5,181.7M142.8,180.5L147.0,182.4M143.4,182.5L141.6,184.8M143.6,183.5L146.8,184.9M144.1,185.5L142.6,187.6M144.7,187.5L143.0,189.8M144.7,187.5L147.4,188.7" stroke="#e2a52e" stroke-width="0.6" stroke-dasharray="0.9 0.6" fill="none"/><ellipse cx="167.0" cy="149.2" rx="11.6" ry="2.8" transform="rotate(-10.6 167.0 149.2)" fill="#f7d77a" opacity="0.55"/><path d="M155.0,151.5L179.0,147.0" stroke="#e3a832" stroke-width="0.9"/><path d="M155.5,151.4L156.8,149.0M156.5,151.2L158.6,153.0M157.5,151.0L159.4,152.6M157.5,151.0L159.3,147.7M158.5,150.8L161.5,153.5M159.5,150.7L161.7,146.5M160.5,150.5L162.8,152.4M160.5,150.5L162.9,145.9M161.5,150.3L164.3,152.7M161.5,150.3L163.0,147.4M162.5,150.1L165.9,153.0M162.5,150.1L164.3,146.7M163.5,149.9L166.5,152.5M163.5,149.9L165.5,146.2M164.5,149.7L168.9,153.5M164.5,149.7L167.0,145.1M165.5,149.5L167.3,146.1M166.5,149.3L169.4,144.0M167.5,149.2L169.5,145.4M168.5,149.0L170.7,144.8M169.5,148.8L172.1,151.0M169.5,148.8L172.0,144.1M170.5,148.6L173.2,150.9M171.5,148.4L174.4,150.9M172.5,148.2L175.4,150.7M172.5,148.2L174.3,144.9M173.5,148.0L175.6,144.2M174.5,147.8L176.7,149.7M175.5,147.7L177.9,149.7M175.5,147.7L177.0,144.8M176.5,147.5L177.6,145.3M177.5,147.3L179.0,148.5M177.5,147.3L178.8,144.8" stroke="#efbf45" stroke-width="0.8" stroke-dasharray="1.1 0.45" fill="none"/><path d="M155.5,151.4L156.9,152.7M156.5,151.2L157.9,148.6M158.5,150.8L160.1,147.8M159.5,150.7L162.0,152.8M165.5,149.5L170.2,153.6M166.5,149.3L170.7,152.9M167.5,149.2L171.8,152.9M168.5,149.0L172.8,152.7M170.5,148.6L172.8,144.3M171.5,148.4L173.4,144.8M173.5,148.0L175.4,149.7M174.5,147.8L176.0,145.1M176.5,147.5L178.3,149.0M178.5,147.1L180.4,148.8M178.5,147.1L179.8,144.7" stroke="#e2a52e" stroke-width="0.6" stroke-dasharray="0.9 0.6" fill="none"/><ellipse cx="171.0" cy="160.2" rx="9.7" ry="2.6" transform="rotate(-12.7 171.0 160.2)" fill="#f7d77a" opacity="0.55"/><path d="M161.0,162.5L181.0,158.0" stroke="#e3a832" stroke-width="0.9"/><path d="M161.5,162.4L162.7,160.0M162.5,162.2L164.6,163.9M163.5,161.9L165.4,163.5M163.5,161.9L165.1,158.6M164.5,161.7L167.6,164.2M165.5,161.5L167.6,157.3M166.5,161.3L168.9,163.2M166.5,161.3L168.8,156.6M167.5,161.0L170.4,163.3M167.5,161.0L168.9,158.1M168.5,160.8L171.9,163.5M168.5,160.8L170.2,157.4M169.5,160.6L172.5,163.0M169.5,160.6L171.3,156.9M170.5,160.4L174.8,163.8M170.5,160.4L172.7,155.9M171.5,160.1L173.1,156.9M172.5,159.9L174.9,155.0M173.5,159.7L175.1,156.3M174.5,159.5L176.2,155.9M175.5,159.2L177.6,160.9M175.5,159.2L177.3,155.5M176.5,159.0L178.5,160.7M177.5,158.8L179.5,160.4M178.5,158.6L180.4,160.1M178.5,158.6L179.5,156.4M179.5,158.3L180.7,156.0M180.5,158.1L182.0,159.3" stroke="#efbf45" stroke-width="0.8" stroke-dasharray="1.1 0.45" fill="none"/><path d="M161.5,162.4L162.9,163.5M162.5,162.2L163.8,159.5M164.5,161.7L166.0,158.6M165.5,161.5L168.1,163.5M171.5,160.1L176.0,163.7M172.5,159.9L176.4,163.0M173.5,159.7L177.4,162.8M174.5,159.5L178.2,162.4M176.5,159.0L178.1,155.8M177.5,158.8L178.7,156.3M179.5,158.3L180.7,159.3M180.5,158.1L181.4,156.2" stroke="#e2a52e" stroke-width="0.6" stroke-dasharray="0.9 0.6" fill="none"/><ellipse cx="170.5" cy="178.8" rx="11.0" ry="3.1" transform="rotate(52.9 170.5 178.8)" fill="#f7d77a" opacity="0.55"/><path d="M163.5,169.5L177.5,188.0" stroke="#e3a832" stroke-width="0.9"/><path d="M163.8,169.9L166.9,170.0M164.4,170.7L163.6,173.7M165.0,171.5L164.3,174.2M165.0,171.5L169.3,171.6M165.6,172.3L164.5,176.7M166.2,173.1L171.6,173.3M166.8,173.9L166.0,177.3M166.8,173.9L172.7,174.1M167.5,174.7L166.4,178.8M167.5,174.7L171.1,174.8M168.1,175.5L166.8,180.4M168.1,175.5L172.5,175.7M168.7,176.3L167.6,180.7M168.7,176.3L173.4,176.5M169.3,177.1L167.7,183.4M169.3,177.1L175.2,177.3M169.9,177.9L174.2,178.1M170.5,178.8L177.3,178.9M171.1,179.6L175.9,179.7M171.7,180.4L176.9,180.5M172.3,181.2L171.4,184.7M172.3,181.2L178.1,181.3M172.9,182.0L172.0,185.7M173.5,182.8L172.6,186.7M174.2,183.6L173.2,187.4M174.2,183.6L178.1,183.7M174.8,184.4L179.2,184.5M175.4,185.2L174.7,188.0M176.0,186.0L175.2,188.9M176.0,186.0L179.2,186.1M176.6,186.8L179.2,186.9M177.2,187.6L176.7,189.7M177.2,187.6L180.3,187.7" stroke="#efbf45" stroke-width="0.8" stroke-dasharray="1.1 0.45" fill="none"/><path d="M163.8,169.9L163.3,172.0M164.4,170.7L167.8,170.8M165.6,172.3L169.5,172.4M166.2,173.1L165.3,176.7M169.9,177.9L168.2,184.7M170.5,178.8L169.0,184.7M171.1,179.6L169.6,185.7M171.7,180.4L170.2,186.4M172.9,182.0L178.1,182.1M173.5,182.8L177.9,182.9M174.8,184.4L174.1,186.9M175.4,185.2L178.5,185.3M176.6,186.8L176.0,189.2" stroke="#e2a52e" stroke-width="0.6" stroke-dasharray="0.9 0.6" fill="none"/><path d="M204,34.5 C190,33 175,32.5 163,36.5 C152,40 145,44 138.5,49 C130,57 124,70 121,80 C118.5,90 117.6,100 117.6,110" fill="none" stroke="#13281b" stroke-width="1.1"/><path d="M125,133 C129,140 133,145 136.5,148 C141,153 147,160 152,162.5 C160,166 168,169 174,169.5 C182,170 193,170 200,168.5 C210,166 220,160 228,154.5" fill="none" stroke="#13281b" stroke-width="1.1"/><path d="M141,47 L146.5,44 M138,56 L144,60.5" stroke="#1d3b28" stroke-width="0.8"/><path d="M177.9,33.0C182.4,38.6 195.6,38.6 204.3,34.1C196.0,29.9 182.8,28.8 177.9,33.0Z" fill="#33b06e" stroke="#0a2516" stroke-width="1.15" stroke-linejoin="round"/><path d="M179.2,33.2Q191.1,33.9 200.3,34.2" fill="none" stroke="#123d25" stroke-width="0.65" stroke-dasharray="1.2 0.5"/><path d="M163.2,35.8C169.1,38.2 178.7,32.4 182.9,25.1C174.5,24.7 164.4,29.6 163.2,35.8Z" fill="#33b06e" stroke="#0a2516" stroke-width="1.15" stroke-linejoin="round"/><path d="M164.2,35.3Q173.1,30.4 179.9,26.7" fill="none" stroke="#123d25" stroke-width="0.65" stroke-dasharray="1.2 0.5"/><path d="M172.2,34.7C174.0,40.3 183.7,43.8 191.4,42.6C186.8,36.4 177.4,32.0 172.2,34.7Z" fill="#33b06e" stroke="#0a2516" stroke-width="1.15" stroke-linejoin="round"/><path d="M173.2,35.1Q181.8,38.7 188.5,41.4" fill="none" stroke="#123d25" stroke-width="0.65" stroke-dasharray="1.2 0.5"/><path d="M149.7,38.6C155.8,38.5 161.3,29.9 161.6,22.0C154.2,24.8 147.9,32.8 149.7,38.6Z" fill="#33b06e" stroke="#0a2516" stroke-width="1.15" stroke-linejoin="round"/><path d="M150.3,37.8Q155.6,30.3 159.8,24.5" fill="none" stroke="#123d25" stroke-width="0.65" stroke-dasharray="1.2 0.5"/><path d="M154.2,40.3C157.9,45.6 169.8,46.5 177.9,43.1C170.8,37.9 159.0,36.0 154.2,40.3Z" fill="#33b06e" stroke="#0a2516" stroke-width="1.15" stroke-linejoin="round"/><path d="M155.4,40.4Q166.1,41.7 174.3,42.7" fill="none" stroke="#123d25" stroke-width="0.65" stroke-dasharray="1.2 0.5"/><path d="M136.2,53.8C141.1,58.8 153.8,57.4 161.6,52.1C153.2,47.9 140.4,48.2 136.2,53.8Z" fill="#33b06e" stroke="#0a2516" stroke-width="1.15" stroke-linejoin="round"/><path d="M137.5,53.7Q148.9,53.0 157.8,52.4" fill="none" stroke="#123d25" stroke-width="0.65" stroke-dasharray="1.2 0.5"/><path d="M123.8,71.5C130.2,71.7 135.7,63.2 135.6,55.2C128.0,57.6 121.6,65.5 123.8,71.5Z" fill="#33b06e" stroke="#0a2516" stroke-width="1.15" stroke-linejoin="round"/><path d="M124.4,70.7Q129.7,63.4 133.8,57.6" fill="none" stroke="#123d25" stroke-width="0.65" stroke-dasharray="1.2 0.5"/><path d="M118.7,83.9C124.3,79.5 123.5,67.7 118.2,60.2C113.3,67.9 112.9,79.8 118.7,83.9Z" fill="#33b06e" stroke="#0a2516" stroke-width="1.15" stroke-linejoin="round"/><path d="M118.7,82.7Q118.5,72.1 118.3,63.8" fill="none" stroke="#123d25" stroke-width="0.65" stroke-dasharray="1.2 0.5"/><path d="M122.7,83.9C128.5,85.9 134.9,79.8 136.2,72.6C128.8,72.6 121.7,77.8 122.7,83.9Z" fill="#33b06e" stroke="#0a2516" stroke-width="1.15" stroke-linejoin="round"/><path d="M123.4,83.3Q129.4,78.2 134.2,74.3" fill="none" stroke="#123d25" stroke-width="0.65" stroke-dasharray="1.2 0.5"/><path d="M115.9,97.4C120.0,92.1 116.1,83.0 109.2,78.8C106.5,86.5 109.3,96.0 115.9,97.4Z" fill="#33b06e" stroke="#0a2516" stroke-width="1.15" stroke-linejoin="round"/><path d="M115.6,96.5Q112.6,88.1 110.2,81.6" fill="none" stroke="#123d25" stroke-width="0.65" stroke-dasharray="1.2 0.5"/><path d="M118.7,96.2C124.2,97.8 130.1,91.8 131.1,85.0C124.2,85.3 117.7,90.6 118.7,96.2Z" fill="#33b06e" stroke="#0a2516" stroke-width="1.15" stroke-linejoin="round"/><path d="M119.3,95.6Q124.9,90.6 129.2,86.7" fill="none" stroke="#123d25" stroke-width="0.65" stroke-dasharray="1.2 0.5"/><path d="M116.5,109.7C118.2,102.9 110.7,96.6 102.4,96.2C103.1,104.5 109.8,111.7 116.5,109.7Z" fill="#33b06e" stroke="#0a2516" stroke-width="1.15" stroke-linejoin="round"/><path d="M115.8,109.0Q109.5,103.0 104.5,98.2" fill="none" stroke="#123d25" stroke-width="0.65" stroke-dasharray="1.2 0.5"/><path d="M121.0,99.0C120.6,103.4 125.4,105.6 130.0,104.0C128.9,99.2 124.6,96.4 121.0,99.0Z" fill="#33b06e" stroke="#0a2516" stroke-width="1.15" stroke-linejoin="round"/><path d="M121.5,99.2Q125.5,101.5 128.7,103.2" fill="none" stroke="#123d25" stroke-width="0.65" stroke-dasharray="1.2 0.5"/><path d="M112.0,125.8C107.9,119.9 97.7,121.2 91.4,127.0C98.3,132.1 108.6,132.1 112.0,125.8Z" fill="#33b06e" stroke="#0a2516" stroke-width="1.15" stroke-linejoin="round"/><path d="M111.0,125.9Q101.7,126.4 94.5,126.8" fill="none" stroke="#123d25" stroke-width="0.65" stroke-dasharray="1.2 0.5"/><path d="M116.1,132.6C109.1,132.1 104.0,140.6 104.9,148.9C113.0,146.8 119.1,139.0 116.1,132.6Z" fill="#33b06e" stroke="#0a2516" stroke-width="1.15" stroke-linejoin="round"/><path d="M115.5,133.4Q110.5,140.8 106.6,146.5" fill="none" stroke="#123d25" stroke-width="0.65" stroke-dasharray="1.2 0.5"/><path d="M129.0,137.5C131.5,143.7 143.5,147.7 152.6,146.5C146.6,139.5 135.0,134.6 129.0,137.5Z" fill="#33b06e" stroke="#0a2516" stroke-width="1.15" stroke-linejoin="round"/><path d="M130.2,137.9Q140.8,142.0 149.1,145.2" fill="none" stroke="#123d25" stroke-width="0.65" stroke-dasharray="1.2 0.5"/><path d="M137.3,148.8C140.2,154.8 152.5,158.3 161.6,156.6C155.2,149.9 143.2,145.6 137.3,148.8Z" fill="#33b06e" stroke="#0a2516" stroke-width="1.15" stroke-linejoin="round"/><path d="M138.5,149.2Q149.4,152.7 158.0,155.4" fill="none" stroke="#123d25" stroke-width="0.65" stroke-dasharray="1.2 0.5"/><path d="M137.3,149.5C135.2,156.1 142.2,166.3 150.4,170.5C150.2,161.3 144.1,150.5 137.3,149.5Z" fill="#33b06e" stroke="#0a2516" stroke-width="1.15" stroke-linejoin="round"/><path d="M138.0,150.6Q143.9,160.0 148.4,167.3" fill="none" stroke="#123d25" stroke-width="0.65" stroke-dasharray="1.2 0.5"/><path d="M147.0,159.3C148.8,165.9 159.9,170.2 168.8,169.0C163.7,161.6 153.1,156.2 147.0,159.3Z" fill="#33b06e" stroke="#0a2516" stroke-width="1.15" stroke-linejoin="round"/><path d="M148.1,159.8Q157.9,164.2 165.5,167.5" fill="none" stroke="#123d25" stroke-width="0.65" stroke-dasharray="1.2 0.5"/><path d="M175.9,169.5C181.9,171.7 191.8,165.6 196.1,158.2C187.5,158.0 177.2,163.2 175.9,169.5Z" fill="#33b06e" stroke="#0a2516" stroke-width="1.15" stroke-linejoin="round"/><path d="M176.9,168.9Q186.0,163.8 193.1,159.9" fill="none" stroke="#123d25" stroke-width="0.65" stroke-dasharray="1.2 0.5"/><path d="M193.9,168.4C200.2,169.3 208.6,161.4 211.3,153.2C202.9,154.8 193.8,162.0 193.9,168.4Z" fill="#33b06e" stroke="#0a2516" stroke-width="1.15" stroke-linejoin="round"/><path d="M194.8,167.6Q202.6,160.8 208.7,155.5" fill="none" stroke="#123d25" stroke-width="0.65" stroke-dasharray="1.2 0.5"/><path d="M204.0,167.2C210.7,169.2 222.8,162.3 228.7,154.3C218.8,154.6 206.2,160.6 204.0,167.2Z" fill="#33b06e" stroke="#0a2516" stroke-width="1.15" stroke-linejoin="round"/><path d="M205.2,166.6Q216.3,160.8 225.0,156.2" fill="none" stroke="#123d25" stroke-width="0.65" stroke-dasharray="1.2 0.5"/><path d="M192.7,170.0C195.3,175.7 206.1,178.1 214.1,175.7C208.4,169.7 197.8,166.3 192.7,170.0Z" fill="#33b06e" stroke="#0a2516" stroke-width="1.15" stroke-linejoin="round"/><path d="M193.8,170.3Q203.4,172.8 210.9,174.8" fill="none" stroke="#123d25" stroke-width="0.65" stroke-dasharray="1.2 0.5"/><path d="M174.7,170.6C175.4,177.0 185.2,183.4 193.9,184.1C190.3,176.2 181.0,169.0 174.7,170.6Z" fill="#33b06e" stroke="#0a2516" stroke-width="1.15" stroke-linejoin="round"/><path d="M175.7,171.3Q184.3,177.3 191.0,182.1" fill="none" stroke="#123d25" stroke-width="0.65" stroke-dasharray="1.2 0.5"/><circle cx="146.9" cy="43.7" r="6.3" fill="#d62862" stroke="#4a0a1c" stroke-width="1"/><circle cx="149.1" cy="42.4" r="1.8" fill="#3a0a16"/><path d="M143.1,43.1a3.8,3.8 0 0 1 3.1,-3.1" stroke="#f07aa0" stroke-width="0.6" fill="none" opacity="0.6"/><circle cx="144.7" cy="61.1" r="5.9" fill="#d62862" stroke="#4a0a1c" stroke-width="1"/><circle cx="146.8" cy="59.9" r="1.7" fill="#3a0a16"/><path d="M141.2,60.5a3.5,3.5 0 0 1 3.0,-3.0" stroke="#f07aa0" stroke-width="0.6" fill="none" opacity="0.6"/><circle cx="113.4" cy="119.2" r="6.4" fill="#d62862" stroke="#4a0a1c" stroke-width="1"/><circle cx="115.6" cy="117.9" r="1.8" fill="#3a0a16"/><path d="M109.6,118.6a3.8,3.8 0 0 1 3.2,-3.2" stroke="#f07aa0" stroke-width="0.6" fill="none" opacity="0.6"/><circle cx="122.3" cy="128.7" r="6.4" fill="#d62862" stroke="#4a0a1c" stroke-width="1"/><circle cx="124.5" cy="127.4" r="1.8" fill="#3a0a16"/><path d="M118.5,128.1a3.8,3.8 0 0 1 3.2,-3.2" stroke="#f07aa0" stroke-width="0.6" fill="none" opacity="0.6"/><circle cx="125.7" cy="116" r="6.4" fill="#d62862" stroke="#4a0a1c" stroke-width="1"/><circle cx="127.9" cy="114.7" r="1.8" fill="#3a0a16"/><path d="M121.9,115.4a3.8,3.8 0 0 1 3.2,-3.2" stroke="#f07aa0" stroke-width="0.6" fill="none" opacity="0.6"/><path d="M120,101 L134.5,115.5" stroke="#9c5b32" stroke-width="2.2" stroke-linecap="round"/><path d="M164.4,115.9 L176.1,99.5 M170.9,109.4 L179.8,109.4" stroke="#9c5b32" stroke-width="2.2" stroke-linecap="round"/><circle cx="149.2" cy="128" r="16.3" fill="#f3f6f8" stroke="#222" stroke-width="0.95"/><ellipse cx="148.2" cy="98.5" rx="13" ry="11.5" fill="#f7f9fa" stroke="#222" stroke-width="0.95"/><path d="M136.5,107.5 Q148.5,110 161,107.5 L161.5,114 Q148.5,116.5 136.5,114 Z" fill="#cc2560" stroke="#6a1030" stroke-width="0.6"/><path d="M154.5,114 L161.5,113.5 L167,126.5 L159.5,134.7 L156,123 Z" fill="#dc3878" stroke="#6a1030" stroke-width="0.6"/><circle cx="145.6" cy="77.6" r="5.4" fill="#e4f3f6" stroke="#2c2c2c" stroke-width="0.8"/><path d="M137.5,87 Q138.5,79 147,79.5 Q155.5,79.5 157,87 Z" fill="#dc3278" stroke="#2c2c2c" stroke-width="0.7"/><path d="M134,91.5 Q134,85 147.5,84.8 Q161.5,85 162,92 Q161,94.8 158,93.5 Q148,89.5 138,93.5 Q134.5,94.8 134,91.5 Z" fill="#e2f1f5" stroke="#2c2c2c" stroke-width="0.7"/><circle cx="141.6" cy="96.6" r="1.8" fill="#111"/><circle cx="154.2" cy="95.8" r="1.8" fill="#111"/><circle cx="148.6" cy="99.3" r="2.2" fill="#eb9a50"/><path d="M140.2,101.4 Q148.4,107.5 156.4,100.9" fill="none" stroke="#222" stroke-width="0.8"/><circle cx="150.3" cy="120.2" r="1.8" fill="#111"/><circle cx="150.8" cy="130" r="1.8" fill="#111"/><ellipse cx="141.2" cy="133.4" rx="11.0" ry="3.0" transform="rotate(27.8 141.2 133.4)" fill="#f7d77a" opacity="0.55"/><path d="M131.0,128.0L151.5,138.8" stroke="#e3a832" stroke-width="0.9"/><path d="M131.4,128.2L134.1,127.1M132.3,128.7L132.9,131.6M133.2,129.2L133.7,131.7M133.2,129.2L136.9,127.6M134.1,129.6L134.9,133.9M135.0,130.1L139.6,128.1M135.9,130.6L136.5,133.8M135.9,130.6L141.0,128.4M136.8,131.1L137.5,134.9M136.8,131.1L140.0,129.7M137.7,131.5L138.6,136.2M137.7,131.5L141.5,129.9M138.6,132.0L139.4,136.2M138.6,132.0L142.7,130.2M139.5,132.5L140.6,138.5M139.5,132.5L144.6,130.2M140.4,132.9L144.1,131.3M141.2,133.4L147.1,130.8M142.1,133.9L146.3,132.1M143.0,134.3L147.5,132.4M143.9,134.8L144.6,138.2M143.9,134.8L148.9,132.6M144.8,135.3L145.5,138.8M145.7,135.7L146.4,139.5M146.6,136.2L147.3,139.9M146.6,136.2L150.0,134.7M147.5,136.7L151.4,135.0M148.4,137.2L148.9,139.9M149.3,137.6L149.8,140.5M149.3,137.6L152.0,136.4M150.2,138.1L152.4,137.1M151.1,138.6L151.4,140.6M151.1,138.6L153.7,137.4" stroke="#efbf45" stroke-width="0.8" stroke-dasharray="1.1 0.45" fill="none"/><path d="M131.4,128.2L131.8,130.2M132.3,128.7L135.3,127.4M134.1,129.6L137.5,128.2M135.0,130.1L135.7,133.5M140.4,132.9L141.6,139.4M141.2,133.4L142.3,139.1M142.1,133.9L143.3,139.7M143.0,134.3L144.2,140.2M144.8,135.3L149.3,133.3M145.7,135.7L149.5,134.1M147.5,136.7L148.0,139.1M148.4,137.2L151.1,136.0M150.2,138.1L150.6,140.4" stroke="#e2a52e" stroke-width="0.6" stroke-dasharray="0.9 0.6" fill="none"/><path d="M129.0,137.5C131.5,143.7 143.5,147.7 152.6,146.5C146.6,139.6 135.0,134.6 129.0,137.5Z" fill="#33b06e" stroke="#0a2516" stroke-width="1.15" stroke-linejoin="round"/><path d="M130.2,137.9Q140.8,142.0 149.1,145.2" fill="none" stroke="#123d25" stroke-width="0.65" stroke-dasharray="1.2 0.5"/></g><g transform="translate(0,259)"><rect x="90" y="15.5" width="166" height="175.5" fill="#fcfcfc"/><path d="M202.4,35.2 L203.8,35.3 L205.1,35.4 L206.4,35.5 L207.7,35.7 L209.0,35.9 L210.3,36.2 L211.6,36.5 L212.9,36.9 L214.2,37.3 L215.4,37.8 L216.6,38.3 L217.8,38.9 L219.0,39.5 L220.2,40.2 L221.3,40.9 L222.4,41.7 L223.4,42.5 L224.5,43.4 L225.5,44.2 L226.4,45.2 L227.4,46.1 L228.3,47.1 L229.2,48.1 L230.0,49.1 L230.6,50.0 L231.1,51.0 L231.6,52.0 L232.1,53.0 L232.6,53.9 L233.1,54.8 L233.7,55.7 L234.2,56.6 L234.7,57.5 L235.3,58.3 L235.9,59.1 L236.5,59.9 L237.2,60.7 L237.9,61.4 L238.6,62.1 L239.3,62.9 L240.1,63.6 L240.9,64.2 L241.7,64.9 L242.5,65.6 L243.3,66.3 L244.2,67.0 L245.0,67.7 L245.9,68.4 L247.1,69.9 L248.2,71.5 L249.3,73.0 L250.4,74.7 L251.4,76.3 L252.3,78.1 L253.1,79.8 L253.9,81.6 L254.5,83.4 L255.1,85.3 L255.6,87.2 L255.9,89.1 L256.2,91.0 L256.4,93.0 L256.4,94.9 L256.4,96.9 L256.3,98.8 L256.1,100.8 L255.8,102.7 L255.4,104.6 L254.9,106.5 L254.4,108.3 L253.8,110.1 L253.2,111.9 L252.6,113.2 L252.0,114.4 L251.4,115.6 L250.8,116.8 L250.2,118.0 L249.6,119.2 L249.0,120.3 L248.4,121.5 L247.9,122.6 L247.3,123.8 L246.8,125.0 L246.3,126.1 L245.8,127.3 L245.3,128.5 L244.9,129.7 L244.4,130.9 L244.0,132.1 L243.6,133.3 L243.1,134.6 L242.7,135.8 L242.2,137.1 L241.8,138.4 L241.3,139.6 L240.8,140.9 L240.5,141.7 L240.1,142.5 L239.8,143.3 L239.4,144.1 L239.0,144.9 L238.6,145.7 L238.1,146.5 L237.6,147.2 L237.1,147.9 L236.6,148.6 L236.0,149.3 L235.4,149.9 L234.7,150.5 L234.1,151.1 L233.4,151.6 L232.7,152.1 L231.9,152.6 L231.2,153.0 L230.4,153.5 L229.6,153.9 L228.8,154.2 L228.0,154.6 L227.1,154.9 L226.3,155.2" fill="none" stroke="#c97a44" stroke-width="0.95"/><path d="M202.4,35.2 L203.6,35.7 L204.8,36.3 L206.0,36.8 L207.2,37.4 L208.3,38.0 L209.5,38.6 L210.6,39.2 L211.7,39.8 L212.8,40.4 L214.0,41.0 L215.1,41.5 L216.2,42.1 L217.4,42.7 L218.5,43.2 L219.6,43.8 L220.8,44.4 L221.9,44.9 L223.1,45.5 L224.2,46.0 L225.4,46.6 L226.6,47.2 L227.7,47.8 L228.9,48.4 L230.0,49.1 L231.1,49.5 L232.1,49.9 L233.2,50.3 L234.2,50.8 L235.2,51.3 L236.2,51.8 L237.1,52.4 L238.0,53.1 L238.9,53.8 L239.7,54.5 L240.5,55.3 L241.2,56.1 L241.8,57.0 L242.5,57.9 L243.0,58.8 L243.5,59.8 L244.0,60.8 L244.4,61.9 L244.7,62.9 L245.0,64.0 L245.3,65.1 L245.5,66.2 L245.7,67.3 L245.9,68.4 L246.4,70.3 L246.9,72.1 L247.4,73.9 L247.8,75.7 L248.2,77.5 L248.5,79.3 L248.9,81.1 L249.2,82.9 L249.5,84.7 L249.8,86.5 L250.1,88.3 L250.4,90.0 L250.7,91.8 L251.0,93.6 L251.3,95.4 L251.6,97.1 L251.9,98.9 L252.1,100.8 L252.4,102.6 L252.6,104.4 L252.8,106.3 L253.0,108.2 L253.1,110.0 L253.2,111.9 L253.3,113.3 L253.3,114.7 L253.3,116.1 L253.3,117.4 L253.3,118.8 L253.1,120.2 L253.0,121.6 L252.7,122.9 L252.4,124.3 L252.0,125.6 L251.6,126.9 L251.1,128.2 L250.5,129.4 L249.9,130.6 L249.2,131.8 L248.4,133.0 L247.6,134.1 L246.8,135.2 L245.8,136.2 L244.9,137.2 L243.9,138.2 L242.9,139.1 L241.9,140.0 L240.8,140.9 L240.1,141.4 L239.4,142.0 L238.7,142.5 L238.0,143.0 L237.3,143.5 L236.6,144.0 L236.0,144.6 L235.3,145.1 L234.7,145.6 L234.1,146.2 L233.4,146.8 L232.8,147.3 L232.3,147.9 L231.7,148.5 L231.1,149.1 L230.6,149.8 L230.0,150.4 L229.5,151.1 L229.0,151.8 L228.5,152.5 L227.9,153.1 L227.4,153.8 L226.9,154.5 L226.3,155.2" fill="none" stroke="#c97a44" stroke-width="0.95"/><path d="M202.4,35.2 L203.7,35.4 L205.0,35.7 L206.3,36.0 L207.5,36.3 L208.8,36.6 L210.0,37.0 L211.3,37.4 L212.5,37.9 L213.7,38.3 L214.9,38.8 L216.1,39.4 L217.3,40.0 L218.5,40.6 L219.6,41.2 L220.8,41.9 L221.9,42.6 L223.0,43.3 L224.0,44.0 L225.1,44.8 L226.1,45.6 L227.1,46.5 L228.1,47.3 L229.1,48.2 L230.0,49.1 L230.7,49.9 L231.4,50.6 L232.1,51.4 L232.8,52.2 L233.5,53.0 L234.1,53.9 L234.8,54.7 L235.4,55.5 L236.1,56.3 L236.7,57.1 L237.4,57.9 L238.0,58.7 L238.7,59.5 L239.4,60.3 L240.0,61.1 L240.7,61.9 L241.3,62.7 L242.0,63.5 L242.7,64.3 L243.3,65.1 L244.0,65.9 L244.6,66.7 L245.2,67.6 L245.9,68.4 L246.9,70.0 L247.8,71.7 L248.7,73.3 L249.5,75.0 L250.3,76.7 L251.1,78.5 L251.7,80.2 L252.3,82.0 L252.9,83.9 L253.4,85.7 L253.8,87.5 L254.1,89.4 L254.4,91.3 L254.6,93.2 L254.8,95.1 L254.8,97.0 L254.9,98.9 L254.8,100.8 L254.7,102.6 L254.5,104.5 L254.2,106.4 L253.9,108.3 L253.6,110.1 L253.2,111.9 L252.8,113.2 L252.4,114.5 L252.0,115.8 L251.6,117.0 L251.2,118.3 L250.8,119.5 L250.3,120.7 L249.8,121.9 L249.4,123.2 L248.9,124.4 L248.4,125.6 L247.9,126.8 L247.3,128.0 L246.8,129.2 L246.3,130.4 L245.7,131.6 L245.2,132.7 L244.6,133.9 L244.0,135.1 L243.4,136.3 L242.8,137.4 L242.2,138.6 L241.5,139.7 L240.8,140.9 L240.4,141.6 L239.9,142.3 L239.4,143.1 L239.0,143.8 L238.5,144.5 L237.9,145.2 L237.4,145.8 L236.9,146.5 L236.3,147.2 L235.7,147.8 L235.2,148.4 L234.6,149.1 L233.9,149.7 L233.3,150.2 L232.6,150.8 L232.0,151.4 L231.3,151.9 L230.6,152.4 L229.9,152.9 L229.2,153.4 L228.5,153.9 L227.8,154.3 L227.1,154.8 L226.3,155.2" fill="none" stroke="#c97a44" stroke-width="0.95"/><ellipse cx="128.8" cy="50.2" rx="9.6" ry="3.6" transform="rotate(-74.2 128.8 50.2)" fill="#f7d77a" opacity="0.55"/><path d="M126.0,60.0L131.5,40.5" stroke="#e3a832" stroke-width="0.9"/><path d="M126.1,59.5L124.0,56.6M126.4,58.5L129.9,57.1M126.7,57.6L129.8,56.3M126.7,57.6L123.7,53.4M127.0,56.6L132.1,54.4M127.2,55.6L123.5,50.3M127.5,54.6L131.4,53.0M127.5,54.6L123.4,48.9M127.8,53.7L132.4,51.7M127.8,53.7L125.2,50.1M128.1,52.7L133.6,50.4M128.1,52.7L125.0,48.4M128.3,51.7L133.3,49.6M128.3,51.7L125.1,47.2M128.6,50.7L135.5,47.8M128.6,50.7L124.6,45.2M128.9,49.8L126.0,45.8M129.2,48.8L124.8,42.7M129.4,47.8L126.5,43.6M129.7,46.8L126.6,42.5M130.0,45.9L133.4,44.4M130.0,45.9L126.6,41.2M130.3,44.9L133.6,43.5M130.5,43.9L133.8,42.5M130.8,42.9L133.9,41.7M130.8,42.9L128.9,40.3M131.1,42.0L129.0,39.0M131.4,41.0L133.8,39.9" stroke="#efbf45" stroke-width="0.8" stroke-dasharray="1.1 0.45" fill="none"/><path d="M126.1,59.5L128.5,58.5M126.4,58.5L124.0,55.2M127.0,56.6L124.2,52.8M127.2,55.6L131.4,53.9M128.9,49.8L136.2,46.7M129.2,48.8L135.4,46.1M129.4,47.8L135.7,45.2M129.7,46.8L135.7,44.3M130.3,44.9L127.4,40.9M130.5,43.9L128.3,40.8M131.1,42.0L133.0,41.1M131.4,41.0L129.7,38.7" stroke="#e2a52e" stroke-width="0.6" stroke-dasharray="0.9 0.6" fill="none"/><ellipse cx="129.2" cy="151.2" rx="16.5" ry="4.3" transform="rotate(65.3 129.2 151.2)" fill="#f7d77a" opacity="0.55"/><path d="M122.0,135.5L136.5,167.0" stroke="#e3a832" stroke-width="0.9"/><path d="M122.2,136.0L126.2,137.0M122.6,136.9L120.9,140.5M123.1,137.8L121.5,140.9M123.1,137.8L128.1,139.1M123.5,138.7L121.0,143.7M123.9,139.7L130.1,141.2M124.3,140.6L122.5,144.3M124.3,140.6L131.1,142.3M124.8,141.5L122.5,146.0M124.8,141.5L129.0,142.6M125.2,142.4L122.5,147.8M125.2,142.4L130.3,143.7M125.6,143.4L123.2,148.3M125.6,143.4L131.2,144.8M126.1,144.3L122.5,151.5M126.1,144.3L133.1,146.1M126.5,145.2L131.8,146.6M126.9,146.2L135.5,148.3M127.3,147.1L133.6,148.6M127.8,148.0L135.0,149.8M128.2,148.9L125.7,153.9M128.2,148.9L136.6,151.0M128.6,149.9L125.9,155.3M129.0,150.8L125.9,157.0M129.5,151.7L126.1,158.4M129.5,151.7L136.6,153.5M129.9,152.6L138.9,154.9M130.3,153.6L127.3,159.6M130.7,154.5L127.2,161.7M130.7,154.5L138.9,156.5M131.2,155.4L138.0,157.1M131.6,156.3L129.1,161.4M131.6,156.3L139.5,158.3M132.4,158.2L129.4,164.3M132.4,158.2L138.3,159.7M132.9,159.1L138.4,160.5M133.3,160.1L131.0,164.7M133.3,160.1L137.9,161.2M133.7,161.0L138.6,162.2M134.2,161.9L132.7,164.8M134.2,161.9L137.6,162.8M135.0,163.8L138.8,164.7M135.4,164.7L134.3,166.9M135.4,164.7L139.2,165.6M135.9,165.6L138.8,166.4M136.3,166.5L135.1,169.0M136.3,166.5L139.0,167.2" stroke="#efbf45" stroke-width="0.8" stroke-dasharray="1.1 0.45" fill="none"/><path d="M122.2,136.0L120.9,138.5M122.6,136.9L126.8,137.9M123.5,138.7L128.0,139.9M123.9,139.7L121.9,143.6M126.5,145.2L122.5,153.2M126.9,146.2L123.3,153.3M127.3,147.1L123.5,154.8M127.8,148.0L123.7,156.0M128.6,149.9L136.7,151.9M129.0,150.8L136.3,152.6M129.9,152.6L127.4,157.5M130.3,153.6L137.3,155.3M131.2,155.4L128.1,161.5M132.0,157.3L128.8,163.7M132.0,157.3L139.3,159.1M132.9,159.1L131.0,162.8M133.7,161.0L131.5,165.3M134.6,162.8L132.5,167.1M134.6,162.8L139.1,163.9M135.0,163.8L133.6,166.5M135.9,165.6L134.7,168.0" stroke="#e2a52e" stroke-width="0.6" stroke-dasharray="0.9 0.6" fill="none"/><ellipse cx="141.7" cy="176.0" rx="11.8" ry="3.1" transform="rotate(75.3 141.7 176.0)" fill="#f7d77a" opacity="0.55"/><path d="M138.5,164.0L144.8,188.0" stroke="#e3a832" stroke-width="0.9"/><path d="M138.6,164.5L141.4,165.7M138.9,165.5L137.0,168.0M139.2,166.5L137.5,168.7M139.2,166.5L143.0,168.2M139.4,167.5L136.7,171.1M139.7,168.5L144.5,170.6M139.9,169.5L137.9,172.2M139.9,169.5L145.2,171.8M140.2,170.5L137.7,173.8M140.2,170.5L143.5,172.0M140.5,171.5L137.5,175.5M140.5,171.5L144.5,173.3M140.7,172.5L138.1,176.1M140.7,172.5L145.0,174.4M141.0,173.5L137.2,178.7M141.0,173.5L146.3,175.9M141.3,174.5L145.2,176.3M141.5,175.5L147.7,178.3M141.8,176.5L146.2,178.5M142.0,177.5L146.9,179.6M142.3,178.5L140.1,181.5M142.3,178.5L147.7,180.9M142.6,179.5L140.2,182.7M142.8,180.5L140.3,183.9M143.1,181.5L140.5,184.9M143.1,181.5L146.9,183.2M143.4,182.5L147.8,184.5M143.6,183.5L141.7,186.1M143.9,184.5L141.8,187.3M143.9,184.5L147.2,186.0M144.1,185.5L146.6,186.6M144.4,186.5L143.1,188.2M144.4,186.5L147.2,187.8" stroke="#efbf45" stroke-width="0.8" stroke-dasharray="1.1 0.45" fill="none"/><path d="M138.6,164.5L137.4,166.2M138.9,165.5L142.0,166.9M139.4,167.5L142.9,169.0M139.7,168.5L137.5,171.4M141.3,174.5L137.1,180.1M141.5,175.5L137.9,180.4M141.8,176.5L138.0,181.6M142.0,177.5L138.2,182.6M142.6,179.5L147.5,181.7M142.8,180.5L147.0,182.4M143.4,182.5L141.6,184.8M143.6,183.5L146.8,184.9M144.1,185.5L142.6,187.6M144.7,187.5L143.0,189.8M144.7,187.5L147.4,188.7" stroke="#e2a52e" stroke-width="0.6" stroke-dasharray="0.9 0.6" fill="none"/><ellipse cx="167.0" cy="149.2" rx="11.6" ry="2.8" transform="rotate(-10.6 167.0 149.2)" fill="#f7d77a" opacity="0.55"/><path d="M155.0,151.5L179.0,147.0" stroke="#e3a832" stroke-width="0.9"/><path d="M155.5,151.4L156.8,149.0M156.5,151.2L158.6,153.0M157.5,151.0L159.4,152.6M157.5,151.0L159.3,147.7M158.5,150.8L161.5,153.5M159.5,150.7L161.7,146.5M160.5,150.5L162.8,152.4M160.5,150.5L162.9,145.9M161.5,150.3L164.3,152.7M161.5,150.3L163.0,147.4M162.5,150.1L165.9,153.0M162.5,150.1L164.3,146.7M163.5,149.9L166.5,152.5M163.5,149.9L165.5,146.2M164.5,149.7L168.9,153.5M164.5,149.7L167.0,145.1M165.5,149.5L167.3,146.1M166.5,149.3L169.4,144.0M167.5,149.2L169.5,145.4M168.5,149.0L170.7,144.8M169.5,148.8L172.1,151.0M169.5,148.8L172.0,144.1M170.5,148.6L173.2,150.9M171.5,148.4L174.4,150.9M172.5,148.2L175.4,150.7M172.5,148.2L174.3,144.9M173.5,148.0L175.6,144.2M174.5,147.8L176.7,149.7M175.5,147.7L177.9,149.7M175.5,147.7L177.0,144.8M176.5,147.5L177.6,145.3M177.5,147.3L179.0,148.5M177.5,147.3L178.8,144.8" stroke="#efbf45" stroke-width="0.8" stroke-dasharray="1.1 0.45" fill="none"/><path d="M155.5,151.4L156.9,152.7M156.5,151.2L157.9,148.6M158.5,150.8L160.1,147.8M159.5,150.7L162.0,152.8M165.5,149.5L170.2,153.6M166.5,149.3L170.7,152.9M167.5,149.2L171.8,152.9M168.5,149.0L172.8,152.7M170.5,148.6L172.8,144.3M171.5,148.4L173.4,144.8M173.5,148.0L175.4,149.7M174.5,147.8L176.0,145.1M176.5,147.5L178.3,149.0M178.5,147.1L180.4,148.8M178.5,147.1L179.8,144.7" stroke="#e2a52e" stroke-width="0.6" stroke-dasharray="0.9 0.6" fill="none"/><ellipse cx="171.0" cy="160.2" rx="9.7" ry="2.6" transform="rotate(-12.7 171.0 160.2)" fill="#f7d77a" opacity="0.55"/><path d="M161.0,162.5L181.0,158.0" stroke="#e3a832" stroke-width="0.9"/><path d="M161.5,162.4L162.7,160.0M162.5,162.2L164.6,163.9M163.5,161.9L165.4,163.5M163.5,161.9L165.1,158.6M164.5,161.7L167.6,164.2M165.5,161.5L167.6,157.3M166.5,161.3L168.9,163.2M166.5,161.3L168.8,156.6M167.5,161.0L170.4,163.3M167.5,161.0L168.9,158.1M168.5,160.8L171.9,163.5M168.5,160.8L170.2,157.4M169.5,160.6L172.5,163.0M169.5,160.6L171.3,156.9M170.5,160.4L174.8,163.8M170.5,160.4L172.7,155.9M171.5,160.1L173.1,156.9M172.5,159.9L174.9,155.0M173.5,159.7L175.1,156.3M174.5,159.5L176.2,155.9M175.5,159.2L177.6,160.9M175.5,159.2L177.3,155.5M176.5,159.0L178.5,160.7M177.5,158.8L179.5,160.4M178.5,158.6L180.4,160.1M178.5,158.6L179.5,156.4M179.5,158.3L180.7,156.0M180.5,158.1L182.0,159.3" stroke="#efbf45" stroke-width="0.8" stroke-dasharray="1.1 0.45" fill="none"/><path d="M161.5,162.4L162.9,163.5M162.5,162.2L163.8,159.5M164.5,161.7L166.0,158.6M165.5,161.5L168.1,163.5M171.5,160.1L176.0,163.7M172.5,159.9L176.4,163.0M173.5,159.7L177.4,162.8M174.5,159.5L178.2,162.4M176.5,159.0L178.1,155.8M177.5,158.8L178.7,156.3M179.5,158.3L180.7,159.3M180.5,158.1L181.4,156.2" stroke="#e2a52e" stroke-width="0.6" stroke-dasharray="0.9 0.6" fill="none"/><ellipse cx="170.5" cy="178.8" rx="11.0" ry="3.1" transform="rotate(52.9 170.5 178.8)" fill="#f7d77a" opacity="0.55"/><path d="M163.5,169.5L177.5,188.0" stroke="#e3a832" stroke-width="0.9"/><path d="M163.8,169.9L166.9,170.0M164.4,170.7L163.6,173.7M165.0,171.5L164.3,174.2M165.0,171.5L169.3,171.6M165.6,172.3L164.5,176.7M166.2,173.1L171.6,173.3M166.8,173.9L166.0,177.3M166.8,173.9L172.7,174.1M167.5,174.7L166.4,178.8M167.5,174.7L171.1,174.8M168.1,175.5L166.8,180.4M168.1,175.5L172.5,175.7M168.7,176.3L167.6,180.7M168.7,176.3L173.4,176.5M169.3,177.1L167.7,183.4M169.3,177.1L175.2,177.3M169.9,177.9L174.2,178.1M170.5,178.8L177.3,178.9M171.1,179.6L175.9,179.7M171.7,180.4L176.9,180.5M172.3,181.2L171.4,184.7M172.3,181.2L178.1,181.3M172.9,182.0L172.0,185.7M173.5,182.8L172.6,186.7M174.2,183.6L173.2,187.4M174.2,183.6L178.1,183.7M174.8,184.4L179.2,184.5M175.4,185.2L174.7,188.0M176.0,186.0L175.2,188.9M176.0,186.0L179.2,186.1M176.6,186.8L179.2,186.9M177.2,187.6L176.7,189.7M177.2,187.6L180.3,187.7" stroke="#efbf45" stroke-width="0.8" stroke-dasharray="1.1 0.45" fill="none"/><path d="M163.8,169.9L163.3,172.0M164.4,170.7L167.8,170.8M165.6,172.3L169.5,172.4M166.2,173.1L165.3,176.7M169.9,177.9L168.2,184.7M170.5,178.8L169.0,184.7M171.1,179.6L169.6,185.7M171.7,180.4L170.2,186.4M172.9,182.0L178.1,182.1M173.5,182.8L177.9,182.9M174.8,184.4L174.1,186.9M175.4,185.2L178.5,185.3M176.6,186.8L176.0,189.2" stroke="#e2a52e" stroke-width="0.6" stroke-dasharray="0.9 0.6" fill="none"/><path d="M204,34.5 C190,33 175,32.5 163,36.5 C152,40 145,44 138.5,49 C130,57 124,70 121,80 C118.5,90 117.6,100 117.6,110" fill="none" stroke="#13281b" stroke-width="1.1"/><path d="M125,133 C129,140 133,145 136.5,148 C141,153 147,160 152,162.5 C160,166 168,169 174,169.5 C182,170 193,170 200,168.5 C210,166 220,160 228,154.5" fill="none" stroke="#13281b" stroke-width="1.1"/><path d="M141,47 L146.5,44 M138,56 L144,60.5" stroke="#1d3b28" stroke-width="0.8"/><path d="M177.9,33.0C182.4,38.6 195.6,38.6 204.3,34.1C196.0,29.9 182.8,28.8 177.9,33.0Z" fill="#33b06e" stroke="#0a2516" stroke-width="1.15" stroke-linejoin="round"/><path d="M179.2,33.2Q191.1,33.9 200.3,34.2" fill="none" stroke="#123d25" stroke-width="0.65" stroke-dasharray="1.2 0.5"/><path d="M163.2,35.8C169.1,38.2 178.7,32.4 182.9,25.1C174.5,24.7 164.4,29.6 163.2,35.8Z" fill="#33b06e" stroke="#0a2516" stroke-width="1.15" stroke-linejoin="round"/><path d="M164.2,35.3Q173.1,30.4 179.9,26.7" fill="none" stroke="#123d25" stroke-width="0.65" stroke-dasharray="1.2 0.5"/><path d="M172.2,34.7C174.0,40.3 183.7,43.8 191.4,42.6C186.8,36.4 177.4,32.0 172.2,34.7Z" fill="#33b06e" stroke="#0a2516" stroke-width="1.15" stroke-linejoin="round"/><path d="M173.2,35.1Q181.8,38.7 188.5,41.4" fill="none" stroke="#123d25" stroke-width="0.65" stroke-dasharray="1.2 0.5"/><path d="M149.7,38.6C155.8,38.5 161.3,29.9 161.6,22.0C154.2,24.8 147.9,32.8 149.7,38.6Z" fill="#33b06e" stroke="#0a2516" stroke-width="1.15" stroke-linejoin="round"/><path d="M150.3,37.8Q155.6,30.3 159.8,24.5" fill="none" stroke="#123d25" stroke-width="0.65" stroke-dasharray="1.2 0.5"/><path d="M154.2,40.3C157.9,45.6 169.8,46.5 177.9,43.1C170.8,37.9 159.0,36.0 154.2,40.3Z" fill="#33b06e" stroke="#0a2516" stroke-width="1.15" stroke-linejoin="round"/><path d="M155.4,40.4Q166.1,41.7 174.3,42.7" fill="none" stroke="#123d25" stroke-width="0.65" stroke-dasharray="1.2 0.5"/><path d="M136.2,53.8C141.1,58.8 153.8,57.4 161.6,52.1C153.2,47.9 140.4,48.2 136.2,53.8Z" fill="#33b06e" stroke="#0a2516" stroke-width="1.15" stroke-linejoin="round"/><path d="M137.5,53.7Q148.9,53.0 157.8,52.4" fill="none" stroke="#123d25" stroke-width="0.65" stroke-dasharray="1.2 0.5"/><path d="M123.8,71.5C130.2,71.7 135.7,63.2 135.6,55.2C128.0,57.6 121.6,65.5 123.8,71.5Z" fill="#33b06e" stroke="#0a2516" stroke-width="1.15" stroke-linejoin="round"/><path d="M124.4,70.7Q129.7,63.4 133.8,57.6" fill="none" stroke="#123d25" stroke-width="0.65" stroke-dasharray="1.2 0.5"/><path d="M118.7,83.9C124.3,79.5 123.5,67.7 118.2,60.2C113.3,67.9 112.9,79.8 118.7,83.9Z" fill="#33b06e" stroke="#0a2516" stroke-width="1.15" stroke-linejoin="round"/><path d="M118.7,82.7Q118.5,72.1 118.3,63.8" fill="none" stroke="#123d25" stroke-width="0.65" stroke-dasharray="1.2 0.5"/><path d="M122.7,83.9C128.5,85.9 134.9,79.8 136.2,72.6C128.8,72.6 121.7,77.8 122.7,83.9Z" fill="#33b06e" stroke="#0a2516" stroke-width="1.15" stroke-linejoin="round"/><path d="M123.4,83.3Q129.4,78.2 134.2,74.3" fill="none" stroke="#123d25" stroke-width="0.65" stroke-dasharray="1.2 0.5"/><path d="M115.9,97.4C120.0,92.1 116.1,83.0 109.2,78.8C106.5,86.5 109.3,96.0 115.9,97.4Z" fill="#33b06e" stroke="#0a2516" stroke-width="1.15" stroke-linejoin="round"/><path d="M115.6,96.5Q112.6,88.1 110.2,81.6" fill="none" stroke="#123d25" stroke-width="0.65" stroke-dasharray="1.2 0.5"/><path d="M118.7,96.2C124.2,97.8 130.1,91.8 131.1,85.0C124.2,85.3 117.7,90.6 118.7,96.2Z" fill="#33b06e" stroke="#0a2516" stroke-width="1.15" stroke-linejoin="round"/><path d="M119.3,95.6Q124.9,90.6 129.2,86.7" fill="none" stroke="#123d25" stroke-width="0.65" stroke-dasharray="1.2 0.5"/><path d="M116.5,109.7C118.2,102.9 110.7,96.6 102.4,96.2C103.1,104.5 109.8,111.7 116.5,109.7Z" fill="#33b06e" stroke="#0a2516" stroke-width="1.15" stroke-linejoin="round"/><path d="M115.8,109.0Q109.5,103.0 104.5,98.2" fill="none" stroke="#123d25" stroke-width="0.65" stroke-dasharray="1.2 0.5"/><path d="M121.0,99.0C120.6,103.4 125.4,105.6 130.0,104.0C128.9,99.2 124.6,96.4 121.0,99.0Z" fill="#33b06e" stroke="#0a2516" stroke-width="1.15" stroke-linejoin="round"/><path d="M121.5,99.2Q125.5,101.5 128.7,103.2" fill="none" stroke="#123d25" stroke-width="0.65" stroke-dasharray="1.2 0.5"/><path d="M112.0,125.8C107.9,119.9 97.7,121.2 91.4,127.0C98.3,132.1 108.6,132.1 112.0,125.8Z" fill="#33b06e" stroke="#0a2516" stroke-width="1.15" stroke-linejoin="round"/><path d="M111.0,125.9Q101.7,126.4 94.5,126.8" fill="none" stroke="#123d25" stroke-width="0.65" stroke-dasharray="1.2 0.5"/><path d="M116.1,132.6C109.1,132.1 104.0,140.6 104.9,148.9C113.0,146.8 119.1,139.0 116.1,132.6Z" fill="#33b06e" stroke="#0a2516" stroke-width="1.15" stroke-linejoin="round"/><path d="M115.5,133.4Q110.5,140.8 106.6,146.5" fill="none" stroke="#123d25" stroke-width="0.65" stroke-dasharray="1.2 0.5"/><path d="M129.0,137.5C131.5,143.7 143.5,147.7 152.6,146.5C146.6,139.5 135.0,134.6 129.0,137.5Z" fill="#33b06e" stroke="#0a2516" stroke-width="1.15" stroke-linejoin="round"/><path d="M130.2,137.9Q140.8,142.0 149.1,145.2" fill="none" stroke="#123d25" stroke-width="0.65" stroke-dasharray="1.2 0.5"/><path d="M137.3,148.8C140.2,154.8 152.5,158.3 161.6,156.6C155.2,149.9 143.2,145.6 137.3,148.8Z" fill="#33b06e" stroke="#0a2516" stroke-width="1.15" stroke-linejoin="round"/><path d="M138.5,149.2Q149.4,152.7 158.0,155.4" fill="none" stroke="#123d25" stroke-width="0.65" stroke-dasharray="1.2 0.5"/><path d="M137.3,149.5C135.2,156.1 142.2,166.3 150.4,170.5C150.2,161.3 144.1,150.5 137.3,149.5Z" fill="#33b06e" stroke="#0a2516" stroke-width="1.15" stroke-linejoin="round"/><path d="M138.0,150.6Q143.9,160.0 148.4,167.3" fill="none" stroke="#123d25" stroke-width="0.65" stroke-dasharray="1.2 0.5"/><path d="M147.0,159.3C148.8,165.9 159.9,170.2 168.8,169.0C163.7,161.6 153.1,156.2 147.0,159.3Z" fill="#33b06e" stroke="#0a2516" stroke-width="1.15" stroke-linejoin="round"/><path d="M148.1,159.8Q157.9,164.2 165.5,167.5" fill="none" stroke="#123d25" stroke-width="0.65" stroke-dasharray="1.2 0.5"/><path d="M175.9,169.5C181.9,171.7 191.8,165.6 196.1,158.2C187.5,158.0 177.2,163.2 175.9,169.5Z" fill="#33b06e" stroke="#0a2516" stroke-width="1.15" stroke-linejoin="round"/><path d="M176.9,168.9Q186.0,163.8 193.1,159.9" fill="none" stroke="#123d25" stroke-width="0.65" stroke-dasharray="1.2 0.5"/><path d="M193.9,168.4C200.2,169.3 208.6,161.4 211.3,153.2C202.9,154.8 193.8,162.0 193.9,168.4Z" fill="#33b06e" stroke="#0a2516" stroke-width="1.15" stroke-linejoin="round"/><path d="M194.8,167.6Q202.6,160.8 208.7,155.5" fill="none" stroke="#123d25" stroke-width="0.65" stroke-dasharray="1.2 0.5"/><path d="M204.0,167.2C210.7,169.2 222.8,162.3 228.7,154.3C218.8,154.6 206.2,160.6 204.0,167.2Z" fill="#33b06e" stroke="#0a2516" stroke-width="1.15" stroke-linejoin="round"/><path d="M205.2,166.6Q216.3,160.8 225.0,156.2" fill="none" stroke="#123d25" stroke-width="0.65" stroke-dasharray="1.2 0.5"/><path d="M192.7,170.0C195.3,175.7 206.1,178.1 214.1,175.7C208.4,169.7 197.8,166.3 192.7,170.0Z" fill="#33b06e" stroke="#0a2516" stroke-width="1.15" stroke-linejoin="round"/><path d="M193.8,170.3Q203.4,172.8 210.9,174.8" fill="none" stroke="#123d25" stroke-width="0.65" stroke-dasharray="1.2 0.5"/><path d="M174.7,170.6C175.4,177.0 185.2,183.4 193.9,184.1C190.3,176.2 181.0,169.0 174.7,170.6Z" fill="#33b06e" stroke="#0a2516" stroke-width="1.15" stroke-linejoin="round"/><path d="M175.7,171.3Q184.3,177.3 191.0,182.1" fill="none" stroke="#123d25" stroke-width="0.65" stroke-dasharray="1.2 0.5"/><circle cx="146.9" cy="43.7" r="6.3" fill="#d62862" stroke="#4a0a1c" stroke-width="1"/><circle cx="149.1" cy="42.4" r="1.8" fill="#3a0a16"/><path d="M143.1,43.1a3.8,3.8 0 0 1 3.1,-3.1" stroke="#f07aa0" stroke-width="0.6" fill="none" opacity="0.6"/><circle cx="144.7" cy="61.1" r="5.9" fill="#d62862" stroke="#4a0a1c" stroke-width="1"/><circle cx="146.8" cy="59.9" r="1.7" fill="#3a0a16"/><path d="M141.2,60.5a3.5,3.5 0 0 1 3.0,-3.0" stroke="#f07aa0" stroke-width="0.6" fill="none" opacity="0.6"/><circle cx="113.4" cy="119.2" r="6.4" fill="#d62862" stroke="#4a0a1c" stroke-width="1"/><circle cx="115.6" cy="117.9" r="1.8" fill="#3a0a16"/><path d="M109.6,118.6a3.8,3.8 0 0 1 3.2,-3.2" stroke="#f07aa0" stroke-width="0.6" fill="none" opacity="0.6"/><circle cx="122.3" cy="128.7" r="6.4" fill="#d62862" stroke="#4a0a1c" stroke-width="1"/><circle cx="124.5" cy="127.4" r="1.8" fill="#3a0a16"/><path d="M118.5,128.1a3.8,3.8 0 0 1 3.2,-3.2" stroke="#f07aa0" stroke-width="0.6" fill="none" opacity="0.6"/><circle cx="125.7" cy="116" r="6.4" fill="#d62862" stroke="#4a0a1c" stroke-width="1"/><circle cx="127.9" cy="114.7" r="1.8" fill="#3a0a16"/><path d="M121.9,115.4a3.8,3.8 0 0 1 3.2,-3.2" stroke="#f07aa0" stroke-width="0.6" fill="none" opacity="0.6"/><path d="M120,101 L134.5,115.5" stroke="#9c5b32" stroke-width="2.2" stroke-linecap="round"/><path d="M164.4,115.9 L176.1,99.5 M170.9,109.4 L179.8,109.4" stroke="#9c5b32" stroke-width="2.2" stroke-linecap="round"/><circle cx="149.2" cy="128" r="16.3" fill="#f3f6f8" stroke="#222" stroke-width="0.95"/><ellipse cx="148.2" cy="98.5" rx="13" ry="11.5" fill="#f7f9fa" stroke="#222" stroke-width="0.95"/><path d="M136.5,107.5 Q148.5,110 161,107.5 L161.5,114 Q148.5,116.5 136.5,114 Z" fill="#cc2560" stroke="#6a1030" stroke-width="0.6"/><path d="M154.5,114 L161.5,113.5 L167,126.5 L159.5,134.7 L156,123 Z" fill="#dc3878" stroke="#6a1030" stroke-width="0.6"/><circle cx="145.6" cy="77.6" r="5.4" fill="#e4f3f6" stroke="#2c2c2c" stroke-width="0.8"/><path d="M137.5,87 Q138.5,79 147,79.5 Q155.5,79.5 157,87 Z" fill="#dc3278" stroke="#2c2c2c" stroke-width="0.7"/><path d="M134,91.5 Q134,85 147.5,84.8 Q161.5,85 162,92 Q161,94.8 158,93.5 Q148,89.5 138,93.5 Q134.5,94.8 134,91.5 Z" fill="#e2f1f5" stroke="#2c2c2c" stroke-width="0.7"/><circle cx="141.6" cy="96.6" r="1.8" fill="#111"/><circle cx="154.2" cy="95.8" r="1.8" fill="#111"/><circle cx="148.6" cy="99.3" r="2.2" fill="#eb9a50"/><path d="M140.2,101.4 Q148.4,107.5 156.4,100.9" fill="none" stroke="#222" stroke-width="0.8"/><circle cx="150.3" cy="120.2" r="1.8" fill="#111"/><circle cx="150.8" cy="130" r="1.8" fill="#111"/><ellipse cx="141.2" cy="133.4" rx="11.0" ry="3.0" transform="rotate(27.8 141.2 133.4)" fill="#f7d77a" opacity="0.55"/><path d="M131.0,128.0L151.5,138.8" stroke="#e3a832" stroke-width="0.9"/><path d="M131.4,128.2L134.1,127.1M132.3,128.7L132.9,131.6M133.2,129.2L133.7,131.7M133.2,129.2L136.9,127.6M134.1,129.6L134.9,133.9M135.0,130.1L139.6,128.1M135.9,130.6L136.5,133.8M135.9,130.6L141.0,128.4M136.8,131.1L137.5,134.9M136.8,131.1L140.0,129.7M137.7,131.5L138.6,136.2M137.7,131.5L141.5,129.9M138.6,132.0L139.4,136.2M138.6,132.0L142.7,130.2M139.5,132.5L140.6,138.5M139.5,132.5L144.6,130.2M140.4,132.9L144.1,131.3M141.2,133.4L147.1,130.8M142.1,133.9L146.3,132.1M143.0,134.3L147.5,132.4M143.9,134.8L144.6,138.2M143.9,134.8L148.9,132.6M144.8,135.3L145.5,138.8M145.7,135.7L146.4,139.5M146.6,136.2L147.3,139.9M146.6,136.2L150.0,134.7M147.5,136.7L151.4,135.0M148.4,137.2L148.9,139.9M149.3,137.6L149.8,140.5M149.3,137.6L152.0,136.4M150.2,138.1L152.4,137.1M151.1,138.6L151.4,140.6M151.1,138.6L153.7,137.4" stroke="#efbf45" stroke-width="0.8" stroke-dasharray="1.1 0.45" fill="none"/><path d="M131.4,128.2L131.8,130.2M132.3,128.7L135.3,127.4M134.1,129.6L137.5,128.2M135.0,130.1L135.7,133.5M140.4,132.9L141.6,139.4M141.2,133.4L142.3,139.1M142.1,133.9L143.3,139.7M143.0,134.3L144.2,140.2M144.8,135.3L149.3,133.3M145.7,135.7L149.5,134.1M147.5,136.7L148.0,139.1M148.4,137.2L151.1,136.0M150.2,138.1L150.6,140.4" stroke="#e2a52e" stroke-width="0.6" stroke-dasharray="0.9 0.6" fill="none"/><path d="M129.0,137.5C131.5,143.7 143.5,147.7 152.6,146.5C146.6,139.6 135.0,134.6 129.0,137.5Z" fill="#33b06e" stroke="#0a2516" stroke-width="1.15" stroke-linejoin="round"/><path d="M130.2,137.9Q140.8,142.0 149.1,145.2" fill="none" stroke="#123d25" stroke-width="0.65" stroke-dasharray="1.2 0.5"/></g>
<g>
<path d="M224.5,426 C229,422.5 234,427 240,425.5 C244,424.5 247,424 246.5,427.5 C246,430 243,429.5 244,426.5 C246,423.5 252,425.5 258,424.5 C262,424 266,422 266.5,420.5 C267,418.5 264.5,418.5 265,421 C265.5,424 270,425 276,425 C284,425 292,426 298,425.5 C302,425 303,428 301.5,429.5 C299.5,431 298.5,427 301,425.5 C306,423.5 316,425 324,424.5 C329,424 331,421 330,419.5 C328.5,418 327,420 329,422.5 C332,425.5 340,425 348,424.5 C356,424 362,425 368,425 C374,425 378,424 381,422.5 C384,421 384.5,418.5 382.5,418.5 C380.5,418.5 381,421.5 384,423 C386,424 387.5,423.5 388.5,423" fill="none" stroke="#f3ec6a" stroke-width="1.4"/>
<path d="M269,383.5 C266,383 263,381 262.5,377.5 C262,374 265,372.5 266.5,374.5 C268,377 266,383.5 262,385.5 C257,388 250,386.5 245,385.5 C240,384.5 236,385 234,387" fill="none" stroke="#5b9ee2" stroke-width="1.1"/>
<path d="M276,386 C278,378 283,372 288.5,368.5 C289,374 286,381 280.5,387.5 Z" fill="#f29abd"/>
<path d="M279,387 C283.5,380 288.5,375 294,372.5 C292.5,379 288,384.5 283,388.5 Z" fill="#f6b3cf"/>
<path d="M286,389.5 L295,392.5 M285.5,390 L294,395 " stroke="#e8e040" stroke-width="1"/>
<path d="M285,390.5 L289,397.5" stroke="#c8303a" stroke-width="1.1"/>
<path d="M286,390 L295.5,394" stroke="#2f8a3a" stroke-width="1"/>
<path d="M269.5,383.5 C272,381 276,382 279,384.5 C282,387 284.5,389 287,390.5 C284,391.5 280,390.5 277,389 C273.5,387.5 271,386 269.5,383.5 Z" fill="#7ccb30" stroke="#5aa828" stroke-width="0.5"/>
<circle cx="271.6" cy="383.9" r="0.6" fill="#222"/>
<path d="M266.5,383.2 L270,383.6" stroke="#3a6a20" stroke-width="0.8"/>
<text y="408.5" font-family="DejaVu Sans" font-weight="200" fill="#5b9ee2" stroke="#5b9ee2" stroke-width="0.75" transform="translate(0,408.5) skewX(-14) translate(0,-408.5)"><tspan x="231" font-size="33" textLength="21" lengthAdjust="spacingAndGlyphs">S</tspan><tspan x="252.5" font-size="25" textLength="35" lengthAdjust="spacingAndGlyphs">ew</tspan></text>
<text y="408.5" font-family="DejaVu Sans" font-weight="200" fill="#e24e8e" stroke="#e24e8e" stroke-width="0.7" transform="translate(0,408.5) skewX(-14) translate(0,-408.5)"><tspan x="291" font-size="36" textLength="24" lengthAdjust="spacingAndGlyphs">S</tspan><tspan x="315" font-size="20" textLength="61" lengthAdjust="spacingAndGlyphs">weetly</tspan></text>
<text x="260.5" y="417.5" font-family="Liberation Serif" font-style="italic" font-size="9.5" fill="#8a44b4" textLength="89" lengthAdjust="spacingAndGlyphs">www.sewsweetly.com</text>
</g></svg>
<div class="title">Actual Sizes And Stitch Counts</div>
<div class="num" style="left:0px;top:20.9px">1</div><div class="sw" style="left:22px;top:20.3px;background:#d3f1fa;border-color:#7f9aa0"></div><div class="lab" style="left:32.6px;top:22.3px">Very Pale Blue</div><div class="num" style="left:0px;top:35.1px">2</div><div class="sw" style="left:22px;top:34.5px;background:#36b677;border-color:#1f6a44"></div><div class="lab" style="left:32.6px;top:36.5px">Dk. Willow Green</div><div class="num" style="left:0px;top:49.3px">3</div><div class="sw" style="left:22px;top:48.7px;background:#c97646;border-color:#7a4424"></div><div class="lab" style="left:32.6px;top:50.7px">Copper</div><div class="num" style="left:0px;top:63.5px">4</div><div class="sw" style="left:22px;top:62.9px;background:#ffffff;border-color:#8a8a8a"></div><div class="lab" style="left:32.6px;top:64.9px">Snow White</div><div class="num" style="left:0px;top:77.7px">5</div><div class="sw" style="left:22px;top:77.1px;background:#ea1160;border-color:#8a0a38"></div><div class="lab" style="left:32.6px;top:79.1px">Rose Red</div><div class="num" style="left:0px;top:91.9px">6</div><div class="sw" style="left:22px;top:91.3px;background:#d3f1fa;border-color:#7f9aa0"></div><div class="lab" style="left:32.6px;top:93.3px">Very Pale Blue</div><div class="num" style="left:0px;top:106.1px">7</div><div class="sw" style="left:22px;top:105.5px;background:#f7813d;border-color:#9a4a1c"></div><div class="lab" style="left:32.6px;top:107.5px">Orange</div><div class="num" style="left:0px;top:120.3px">8</div><div class="sw" style="left:22px;top:119.7px;background:#36b677;border-color:#1f6a44"></div><div class="lab" style="left:32.6px;top:121.7px">Dk. Willow Green</div><div class="num" style="left:0px;top:134.5px">9</div><div class="sw" style="left:22px;top:133.9px;background:#000000;border-color:#000000"></div><div class="lab" style="left:32.6px;top:135.9px">Black</div><div class="num" style="left:0px;top:148.7px">10</div><div class="sw" style="left:22px;top:148.1px;background:#efb135;border-color:#8a6418"></div><div class="lab" style="left:32.6px;top:150.1px">Yellow</div><div class="info" style="left:10.3px;top:195.4px;width:247px"><div>File: Christmas Wreath-4-4x4.pes</div><div class="row"><span>Stitches: 9372</span><span>Colors: 8/10</span></div><div class="row"><span>Size: 3.85x3.89 "</span><span>Stops: 9</span></div></div><div class="num" style="left:267px;top:20.9px">1</div><div class="sw" style="left:289px;top:20.3px;background:#d3f1fa;border-color:#7f9aa0"></div><div class="lab" style="left:299.6px;top:22.3px">Very Pale Blue</div><div class="num" style="left:267px;top:35.1px">2</div><div class="sw" style="left:289px;top:34.5px;background:#36b677;border-color:#1f6a44"></div><div class="lab" style="left:299.6px;top:36.5px">Dk. Willow Green</div><div class="num" style="left:267px;top:49.3px">3</div><div class="sw" style="left:289px;top:48.7px;background:#c97646;border-color:#7a4424"></div><div class="lab" style="left:299.6px;top:50.7px">Copper</div><div class="num" style="left:267px;top:63.5px">4</div><div class="sw" style="left:289px;top:62.9px;background:#ffffff;border-color:#8a8a8a"></div><div class="lab" style="left:299.6px;top:64.9px">Snow White</div><div class="num" style="left:267px;top:77.7px">5</div><div class="sw" style="left:289px;top:77.1px;background:#ea1160;border-color:#8a0a38"></div><div class="lab" style="left:299.6px;top:79.1px">Rose Red</div><div class="num" style="left:267px;top:91.9px">6</div><div class="sw" style="left:289px;top:91.3px;background:#d3f1fa;border-color:#7f9aa0"></div><div class="lab" style="left:299.6px;top:93.3px">Very Pale Blue</div><div class="num" style="left:267px;top:106.1px">7</div><div class="sw" style="left:289px;top:105.5px;background:#f7813d;border-color:#9a4a1c"></div><div class="lab" style="left:299.6px;top:107.5px">Orange</div><div class="num" style="left:267px;top:120.3px">8</div><div class="sw" style="left:289px;top:119.7px;background:#36b677;border-color:#1f6a44"></div><div class="lab" style="left:299.6px;top:121.7px">Dk. Willow Green</div><div class="num" style="left:267px;top:134.5px">9</div><div class="sw" style="left:289px;top:133.9px;background:#000000;border-color:#000000"></div><div class="lab" style="left:299.6px;top:135.9px">Black</div><div class="num" style="left:267px;top:148.7px">10</div><div class="sw" style="left:289px;top:148.1px;background:#efb135;border-color:#8a6418"></div><div class="lab" style="left:299.6px;top:150.1px">Yellow</div><div class="info" style="left:277.3px;top:195.4px;width:247px"><div>File: Christmas Wreath-4-5x7.pes</div><div class="row"><span>Stitches: 13540</span><span>Colors: 8/10</span></div><div class="row"><span>Size: 4.80x4.85 "</span><span>Stops: 9</span></div></div><div class="num" style="left:533.6px;top:20.9px">1</div><div class="sw" style="left:555.6px;top:20.3px;background:#d3f1fa;border-color:#7f9aa0"></div><div class="lab" style="left:566.2px;top:22.3px">Very Pale Blue</div><div class="num" style="left:533.6px;top:35.1px">2</div><div class="sw" style="left:555.6px;top:34.5px;background:#36b677;border-color:#1f6a44"></div><div class="lab" style="left:566.2px;top:36.5px">Dk. Willow Green</div><div class="num" style="left:533.6px;top:49.3px">3</div><div class="sw" style="left:555.6px;top:48.7px;background:#c97646;border-color:#7a4424"></div><div class="lab" style="left:566.2px;top:50.7px">Copper</div><div class="num" style="left:533.6px;top:63.5px">4</div><div class="sw" style="left:555.6px;top:62.9px;background:#ffffff;border-color:#8a8a8a"></div><div class="lab" style="left:566.2px;top:64.9px">Snow White</div><div class="num" style="left:533.6px;top:77.7px">5</div><div class="sw" style="left:555.6px;top:77.1px;background:#ea1160;border-color:#8a0a38"></div><div class="lab" style="left:566.2px;top:79.1px">Rose Red</div><div class="num" style="left:533.6px;top:91.9px">6</div><div class="sw" style="left:555.6px;top:91.3px;background:#d3f1fa;border-color:#7f9aa0"></div><div class="lab" style="left:566.2px;top:93.3px">Very Pale Blue</div><div class="num" style="left:533.6px;top:106.1px">7</div><div class="sw" style="left:555.6px;top:105.5px;background:#f7813d;border-color:#9a4a1c"></div><div class="lab" style="left:566.2px;top:107.5px">Orange</div><div class="num" style="left:533.6px;top:120.3px">8</div><div class="sw" style="left:555.6px;top:119.7px;background:#36b677;border-color:#1f6a44"></div><div class="lab" style="left:566.2px;top:121.7px">Dk. Willow Green</div><div class="num" style="left:533.6px;top:134.5px">9</div><div class="sw" style="left:555.6px;top:133.9px;background:#000000;border-color:#000000"></div><div class="lab" style="left:566.2px;top:135.9px">Black</div><div class="num" style="left:533.6px;top:148.7px">10</div><div class="sw" style="left:555.6px;top:148.1px;background:#efb135;border-color:#8a6418"></div><div class="lab" style="left:566.2px;top:150.1px">Yellow</div><div class="info" style="left:543.9px;top:195.4px;width:247px"><div>File: Christmas Wreath-4-6x10.pes</div><div class="row"><span>Stitches: 17480</span><span>Colors: 8/10</span></div><div class="row"><span>Size: 5.80x5.85 "</span><span>Stops: 9</span></div></div><div class="num" style="left:0px;top:279.9px">1</div><div class="sw" style="left:22px;top:279.3px;background:#d3f1fa;border-color:#7f9aa0"></div><div class="lab" style="left:32.6px;top:281.3px">Very Pale Blue</div><div class="num" style="left:0px;top:294.1px">2</div><div class="sw" style="left:22px;top:293.5px;background:#36b677;border-color:#1f6a44"></div><div class="lab" style="left:32.6px;top:295.5px">Dk. Willow Green</div><div class="num" style="left:0px;top:308.3px">3</div><div class="sw" style="left:22px;top:307.7px;background:#c97646;border-color:#7a4424"></div><div class="lab" style="left:32.6px;top:309.7px">Copper</div><div class="num" style="left:0px;top:322.5px">4</div><div class="sw" style="left:22px;top:321.9px;background:#ffffff;border-color:#8a8a8a"></div><div class="lab" style="left:32.6px;top:323.9px">Snow White</div><div class="num" style="left:0px;top:336.7px">5</div><div class="sw" style="left:22px;top:336.1px;background:#ea1160;border-color:#8a0a38"></div><div class="lab" style="left:32.6px;top:338.1px">Rose Red</div><div class="num" style="left:0px;top:350.9px">6</div><div class="sw" style="left:22px;top:350.3px;background:#d3f1fa;border-color:#7f9aa0"></div><div class="lab" style="left:32.6px;top:352.3px">Very Pale Blue</div><div class="num" style="left:0px;top:365.1px">7</div><div class="sw" style="left:22px;top:364.5px;background:#f7813d;border-color:#9a4a1c"></div><div class="lab" style="left:32.6px;top:366.5px">Orange</div><div class="num" style="left:0px;top:379.3px">8</div><div class="sw" style="left:22px;top:378.7px;background:#36b677;border-color:#1f6a44"></div><div class="lab" style="left:32.6px;top:380.7px">Dk. Willow Green</div><div class="num" style="left:0px;top:393.5px">9</div><div class="sw" style="left:22px;top:392.9px;background:#000000;border-color:#000000"></div><div class="lab" style="left:32.6px;top:394.9px">Black</div><div class="num" style="left:0px;top:407.7px">10</div><div class="sw" style="left:22px;top:407.1px;background:#efb135;border-color:#8a6418"></div><div class="lab" style="left:32.6px;top:409.1px">Yellow</div><div class="info" style="left:10.3px;top:454.4px;width:247px"><div>File: Christmas Wreath-4-8x8.pes</div><div class="row"><span>Stitches: 26248</span><span>Colors: 8/10</span></div><div class="row"><span>Size: 7.75x7.80 "</span><span>Stops: 9</span></div></div>
</body></html>
